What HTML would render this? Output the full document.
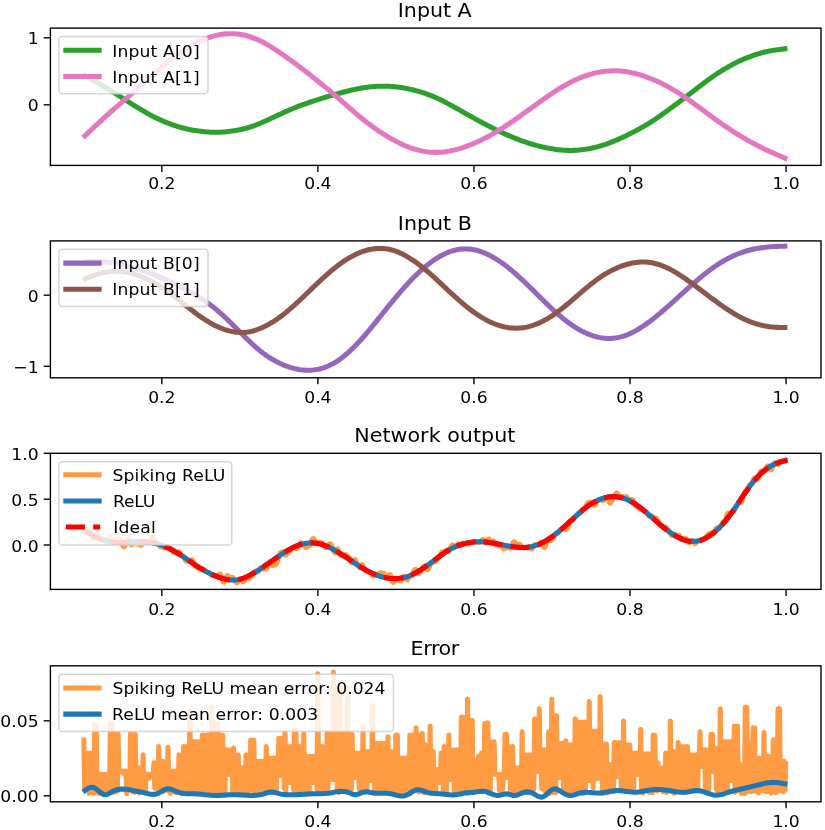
<!DOCTYPE html>
<html lang="en"><head><meta charset="utf-8"><title>Network output</title>
<style>html,body{margin:0;padding:0;background:#fff}svg{display:block}</style>
</head><body>
<svg width="825" height="830" viewBox="0 0 825 830" font-family='"DejaVu Sans", "Liberation Sans", sans-serif' fill="#000">
<rect width="825" height="830" fill="#fff"/>
<clipPath id="c0"><rect x="50.4" y="28.1" width="770.6" height="137.3"/></clipPath>
<clipPath id="c1"><rect x="50.4" y="240.9" width="770.6" height="136.9"/></clipPath>
<clipPath id="c2"><rect x="50.4" y="453.3" width="770.6" height="136.1"/></clipPath>
<clipPath id="c3"><rect x="50.4" y="665.8" width="770.6" height="136"/></clipPath>
<g clip-path="url(#c0)">
<path d="M83 74.37 L84.96 75.49 L86.92 76.62 L88.89 77.74 L90.85 78.87 L92.81 80 L94.77 81.13 L96.73 82.27 L98.7 83.42 L100.66 84.57 L102.62 85.73 L104.58 86.89 L106.55 88.07 L108.51 89.26 L110.47 90.45 L112.43 91.65 L114.39 92.86 L116.36 94.08 L118.32 95.31 L120.28 96.54 L122.24 97.79 L124.2 99.04 L126.17 100.29 L128.13 101.55 L130.09 102.8 L132.05 104.05 L134.02 105.3 L135.98 106.53 L137.94 107.75 L139.9 108.96 L141.86 110.14 L143.83 111.3 L145.79 112.44 L147.75 113.54 L149.71 114.62 L151.67 115.66 L153.64 116.68 L155.6 117.66 L157.56 118.61 L159.52 119.53 L161.48 120.41 L163.45 121.27 L165.41 122.09 L167.37 122.88 L169.33 123.63 L171.3 124.35 L173.26 125.04 L175.22 125.7 L177.18 126.32 L179.14 126.91 L181.11 127.47 L183.07 127.99 L185.03 128.49 L186.99 128.96 L188.95 129.39 L190.92 129.79 L192.88 130.17 L194.84 130.51 L196.8 130.83 L198.76 131.12 L200.73 131.37 L202.69 131.6 L204.65 131.8 L206.61 131.96 L208.58 132.1 L210.54 132.2 L212.5 132.27 L214.46 132.3 L216.42 132.3 L218.39 132.27 L220.35 132.2 L222.31 132.1 L224.27 131.96 L226.23 131.79 L228.2 131.59 L230.16 131.35 L232.12 131.08 L234.08 130.77 L236.05 130.44 L238.01 130.07 L239.97 129.67 L241.93 129.24 L243.89 128.77 L245.86 128.27 L247.82 127.72 L249.78 127.13 L251.74 126.49 L253.7 125.81 L255.67 125.08 L257.63 124.32 L259.59 123.53 L261.55 122.71 L263.51 121.86 L265.48 120.99 L267.44 120.11 L269.4 119.21 L271.36 118.3 L273.33 117.38 L275.29 116.45 L277.25 115.53 L279.21 114.61 L281.17 113.69 L283.14 112.79 L285.1 111.9 L287.06 111.02 L289.02 110.17 L290.98 109.33 L292.95 108.52 L294.91 107.73 L296.87 106.96 L298.83 106.2 L300.79 105.46 L302.76 104.74 L304.72 104.03 L306.68 103.34 L308.64 102.66 L310.61 101.99 L312.57 101.33 L314.53 100.68 L316.49 100.04 L318.45 99.41 L320.42 98.79 L322.38 98.17 L324.34 97.57 L326.3 96.97 L328.26 96.38 L330.23 95.8 L332.19 95.23 L334.15 94.67 L336.11 94.11 L338.08 93.56 L340.04 93.02 L342 92.49 L343.96 91.97 L345.92 91.46 L347.89 90.97 L349.85 90.5 L351.81 90.04 L353.77 89.6 L355.73 89.18 L357.7 88.79 L359.66 88.42 L361.62 88.07 L363.58 87.75 L365.54 87.46 L367.51 87.2 L369.47 86.97 L371.43 86.77 L373.39 86.59 L375.36 86.45 L377.32 86.34 L379.28 86.26 L381.24 86.21 L383.2 86.2 L385.17 86.21 L387.13 86.26 L389.09 86.35 L391.05 86.46 L393.01 86.61 L394.98 86.79 L396.94 87 L398.9 87.24 L400.86 87.52 L402.83 87.82 L404.79 88.16 L406.75 88.53 L408.71 88.92 L410.67 89.35 L412.64 89.81 L414.6 90.3 L416.56 90.82 L418.52 91.37 L420.48 91.95 L422.45 92.57 L424.41 93.22 L426.37 93.9 L428.33 94.61 L430.29 95.36 L432.26 96.13 L434.22 96.95 L436.18 97.8 L438.14 98.68 L440.11 99.6 L442.07 100.56 L444.03 101.55 L445.99 102.56 L447.95 103.61 L449.92 104.67 L451.88 105.75 L453.84 106.84 L455.8 107.93 L457.76 109.04 L459.73 110.14 L461.69 111.25 L463.65 112.37 L465.61 113.48 L467.57 114.59 L469.54 115.69 L471.5 116.8 L473.46 117.89 L475.42 118.99 L477.39 120.07 L479.35 121.14 L481.31 122.2 L483.27 123.25 L485.23 124.28 L487.2 125.31 L489.16 126.32 L491.12 127.32 L493.08 128.3 L495.04 129.27 L497.01 130.22 L498.97 131.16 L500.93 132.09 L502.89 132.99 L504.86 133.88 L506.82 134.75 L508.78 135.61 L510.74 136.44 L512.7 137.26 L514.67 138.06 L516.63 138.83 L518.59 139.59 L520.55 140.32 L522.51 141.04 L524.48 141.73 L526.44 142.39 L528.4 143.04 L530.36 143.66 L532.32 144.26 L534.29 144.83 L536.25 145.38 L538.21 145.9 L540.17 146.4 L542.14 146.87 L544.1 147.31 L546.06 147.73 L548.02 148.12 L549.98 148.49 L551.95 148.82 L553.91 149.13 L555.87 149.41 L557.83 149.65 L559.79 149.87 L561.76 150.05 L563.72 150.2 L565.68 150.31 L567.64 150.39 L569.61 150.43 L571.57 150.43 L573.53 150.39 L575.49 150.31 L577.45 150.19 L579.42 150.03 L581.38 149.83 L583.34 149.59 L585.3 149.32 L587.26 149 L589.23 148.65 L591.19 148.26 L593.15 147.83 L595.11 147.37 L597.07 146.87 L599.04 146.34 L601 145.77 L602.96 145.16 L604.92 144.53 L606.89 143.85 L608.85 143.15 L610.81 142.41 L612.77 141.65 L614.73 140.85 L616.7 140.02 L618.66 139.17 L620.62 138.29 L622.58 137.38 L624.54 136.45 L626.51 135.49 L628.47 134.52 L630.43 133.54 L632.39 132.55 L634.35 131.54 L636.32 130.51 L638.28 129.47 L640.24 128.4 L642.2 127.3 L644.17 126.17 L646.13 125 L648.09 123.81 L650.05 122.58 L652.01 121.33 L653.98 120.04 L655.94 118.74 L657.9 117.4 L659.86 116.05 L661.82 114.68 L663.79 113.28 L665.75 111.87 L667.71 110.45 L669.67 109.01 L671.64 107.56 L673.6 106.1 L675.56 104.63 L677.52 103.15 L679.48 101.66 L681.45 100.17 L683.41 98.67 L685.37 97.16 L687.33 95.66 L689.29 94.15 L691.26 92.65 L693.22 91.14 L695.18 89.64 L697.14 88.14 L699.1 86.64 L701.07 85.16 L703.03 83.69 L704.99 82.24 L706.95 80.8 L708.92 79.38 L710.88 77.98 L712.84 76.61 L714.8 75.26 L716.76 73.94 L718.73 72.65 L720.69 71.39 L722.65 70.17 L724.61 68.98 L726.57 67.82 L728.54 66.69 L730.5 65.6 L732.46 64.54 L734.42 63.52 L736.38 62.52 L738.35 61.57 L740.31 60.64 L742.27 59.76 L744.23 58.9 L746.2 58.09 L748.16 57.3 L750.12 56.56 L752.08 55.84 L754.04 55.16 L756.01 54.52 L757.97 53.91 L759.93 53.34 L761.89 52.8 L763.85 52.3 L765.82 51.83 L767.78 51.4 L769.74 51 L771.7 50.63 L773.67 50.29 L775.63 49.98 L777.59 49.69 L779.55 49.43 L781.51 49.19 L783.48 48.97 L785.44 48.75 L787.4 48.55" fill="none" stroke="#2ca02c" stroke-opacity="1" stroke-width="5.05" stroke-linejoin="round" stroke-linecap="butt"/>
<path d="M83 137.66 L84.96 135.79 L86.92 133.93 L88.89 132.07 L90.85 130.21 L92.81 128.36 L94.77 126.51 L96.73 124.67 L98.7 122.85 L100.66 121.03 L102.62 119.23 L104.58 117.44 L106.55 115.67 L108.51 113.91 L110.47 112.17 L112.43 110.43 L114.39 108.71 L116.36 107 L118.32 105.3 L120.28 103.6 L122.24 101.9 L124.2 100.21 L126.17 98.52 L128.13 96.82 L130.09 95.11 L132.05 93.4 L134.02 91.68 L135.98 89.94 L137.94 88.19 L139.9 86.43 L141.86 84.66 L143.83 82.88 L145.79 81.1 L147.75 79.33 L149.71 77.55 L151.67 75.79 L153.64 74.03 L155.6 72.28 L157.56 70.55 L159.52 68.84 L161.48 67.14 L163.45 65.47 L165.41 63.82 L167.37 62.21 L169.33 60.62 L171.3 59.07 L173.26 57.55 L175.22 56.07 L177.18 54.63 L179.14 53.23 L181.11 51.87 L183.07 50.55 L185.03 49.28 L186.99 48.04 L188.95 46.85 L190.92 45.71 L192.88 44.61 L194.84 43.56 L196.8 42.56 L198.76 41.61 L200.73 40.71 L202.69 39.85 L204.65 39.05 L206.61 38.3 L208.58 37.61 L210.54 36.97 L212.5 36.38 L214.46 35.85 L216.42 35.37 L218.39 34.95 L220.35 34.59 L222.31 34.29 L224.27 34.05 L226.23 33.87 L228.2 33.75 L230.16 33.69 L232.12 33.7 L234.08 33.77 L236.05 33.9 L238.01 34.1 L239.97 34.36 L241.93 34.68 L243.89 35.07 L245.86 35.52 L247.82 36.05 L249.78 36.64 L251.74 37.31 L253.7 38.04 L255.67 38.84 L257.63 39.7 L259.59 40.62 L261.55 41.59 L263.51 42.61 L265.48 43.67 L267.44 44.78 L269.4 45.92 L271.36 47.1 L273.33 48.32 L275.29 49.57 L277.25 50.85 L279.21 52.16 L281.17 53.49 L283.14 54.84 L285.1 56.22 L287.06 57.61 L289.02 59.02 L290.98 60.44 L292.95 61.88 L294.91 63.33 L296.87 64.79 L298.83 66.26 L300.79 67.75 L302.76 69.24 L304.72 70.75 L306.68 72.27 L308.64 73.8 L310.61 75.34 L312.57 76.88 L314.53 78.44 L316.49 80 L318.45 81.58 L320.42 83.16 L322.38 84.76 L324.34 86.37 L326.3 87.98 L328.26 89.61 L330.23 91.25 L332.19 92.91 L334.15 94.57 L336.11 96.26 L338.08 97.95 L340.04 99.66 L342 101.37 L343.96 103.09 L345.92 104.81 L347.89 106.53 L349.85 108.25 L351.81 109.96 L353.77 111.65 L355.73 113.33 L357.7 114.99 L359.66 116.62 L361.62 118.23 L363.58 119.82 L365.54 121.37 L367.51 122.89 L369.47 124.38 L371.43 125.84 L373.39 127.27 L375.36 128.67 L377.32 130.03 L379.28 131.37 L381.24 132.67 L383.2 133.94 L385.17 135.17 L387.13 136.37 L389.09 137.54 L391.05 138.67 L393.01 139.76 L394.98 140.81 L396.94 141.83 L398.9 142.81 L400.86 143.74 L402.83 144.63 L404.79 145.49 L406.75 146.29 L408.71 147.05 L410.67 147.77 L412.64 148.44 L414.6 149.06 L416.56 149.63 L418.52 150.15 L420.48 150.62 L422.45 151.04 L424.41 151.4 L426.37 151.71 L428.33 151.96 L430.29 152.15 L432.26 152.29 L434.22 152.37 L436.18 152.39 L438.14 152.35 L440.11 152.26 L442.07 152.11 L444.03 151.9 L445.99 151.64 L447.95 151.33 L449.92 150.98 L451.88 150.58 L453.84 150.14 L455.8 149.65 L457.76 149.13 L459.73 148.57 L461.69 147.97 L463.65 147.34 L465.61 146.66 L467.57 145.96 L469.54 145.21 L471.5 144.43 L473.46 143.62 L475.42 142.77 L477.39 141.89 L479.35 140.98 L481.31 140.04 L483.27 139.06 L485.23 138.05 L487.2 137.02 L489.16 135.95 L491.12 134.86 L493.08 133.74 L495.04 132.59 L497.01 131.42 L498.97 130.22 L500.93 129 L502.89 127.76 L504.86 126.49 L506.82 125.2 L508.78 123.89 L510.74 122.56 L512.7 121.22 L514.67 119.86 L516.63 118.49 L518.59 117.11 L520.55 115.72 L522.51 114.32 L524.48 112.91 L526.44 111.5 L528.4 110.09 L530.36 108.67 L532.32 107.26 L534.29 105.85 L536.25 104.44 L538.21 103.04 L540.17 101.64 L542.14 100.25 L544.1 98.88 L546.06 97.51 L548.02 96.16 L549.98 94.83 L551.95 93.51 L553.91 92.21 L555.87 90.93 L557.83 89.68 L559.79 88.45 L561.76 87.25 L563.72 86.09 L565.68 84.95 L567.64 83.85 L569.61 82.79 L571.57 81.77 L573.53 80.79 L575.49 79.86 L577.45 78.97 L579.42 78.13 L581.38 77.34 L583.34 76.6 L585.3 75.9 L587.26 75.24 L589.23 74.63 L591.19 74.07 L593.15 73.55 L595.11 73.08 L597.07 72.65 L599.04 72.26 L601 71.92 L602.96 71.62 L604.92 71.37 L606.89 71.16 L608.85 71 L610.81 70.89 L612.77 70.82 L614.73 70.81 L616.7 70.84 L618.66 70.93 L620.62 71.06 L622.58 71.24 L624.54 71.48 L626.51 71.75 L628.47 72.08 L630.43 72.45 L632.39 72.86 L634.35 73.31 L636.32 73.81 L638.28 74.35 L640.24 74.92 L642.2 75.53 L644.17 76.18 L646.13 76.86 L648.09 77.57 L650.05 78.32 L652.01 79.1 L653.98 79.92 L655.94 80.77 L657.9 81.65 L659.86 82.57 L661.82 83.53 L663.79 84.52 L665.75 85.54 L667.71 86.6 L669.67 87.7 L671.64 88.83 L673.6 90 L675.56 91.19 L677.52 92.42 L679.48 93.67 L681.45 94.95 L683.41 96.25 L685.37 97.58 L687.33 98.93 L689.29 100.3 L691.26 101.68 L693.22 103.09 L695.18 104.51 L697.14 105.94 L699.1 107.37 L701.07 108.82 L703.03 110.27 L704.99 111.72 L706.95 113.18 L708.92 114.62 L710.88 116.07 L712.84 117.5 L714.8 118.92 L716.76 120.34 L718.73 121.73 L720.69 123.11 L722.65 124.47 L724.61 125.82 L726.57 127.14 L728.54 128.45 L730.5 129.74 L732.46 131.02 L734.42 132.27 L736.38 133.51 L738.35 134.73 L740.31 135.93 L742.27 137.1 L744.23 138.26 L746.2 139.4 L748.16 140.52 L750.12 141.62 L752.08 142.7 L754.04 143.76 L756.01 144.8 L757.97 145.82 L759.93 146.82 L761.89 147.79 L763.85 148.75 L765.82 149.69 L767.78 150.61 L769.74 151.51 L771.7 152.4 L773.67 153.27 L775.63 154.13 L777.59 154.98 L779.55 155.82 L781.51 156.66 L783.48 157.49 L785.44 158.32 L787.4 159.14" fill="none" stroke="#e377c2" stroke-opacity="1" stroke-width="5.05" stroke-linejoin="round" stroke-linecap="butt"/>
</g>
<rect x="50.4" y="28.1" width="770.6" height="137.3" fill="none" stroke="#000" stroke-width="1.38"/>
<line x1="161.83" y1="165.4" x2="161.83" y2="171.9" stroke="#000" stroke-width="1.38"/>
<text transform="translate(161.83,189.4) scale(1.031,1)" font-size="16.67" text-anchor="middle">0.2</text>
<line x1="317.89" y1="165.4" x2="317.89" y2="171.9" stroke="#000" stroke-width="1.38"/>
<text transform="translate(317.89,189.4) scale(1.031,1)" font-size="16.67" text-anchor="middle">0.4</text>
<line x1="473.95" y1="165.4" x2="473.95" y2="171.9" stroke="#000" stroke-width="1.38"/>
<text transform="translate(473.95,189.4) scale(1.031,1)" font-size="16.67" text-anchor="middle">0.6</text>
<line x1="630.01" y1="165.4" x2="630.01" y2="171.9" stroke="#000" stroke-width="1.38"/>
<text transform="translate(630.01,189.4) scale(1.031,1)" font-size="16.67" text-anchor="middle">0.8</text>
<line x1="786.07" y1="165.4" x2="786.07" y2="171.9" stroke="#000" stroke-width="1.38"/>
<text transform="translate(786.07,189.4) scale(1.031,1)" font-size="16.67" text-anchor="middle">1.0</text>
<line x1="43.7" y1="37.8" x2="50.4" y2="37.8" stroke="#000" stroke-width="1.38"/>
<text transform="translate(38.6,44.3) scale(1.031,1)" font-size="16.67" text-anchor="end">1</text>
<line x1="43.7" y1="104.8" x2="50.4" y2="104.8" stroke="#000" stroke-width="1.38"/>
<text transform="translate(38.6,111.3) scale(1.031,1)" font-size="16.67" text-anchor="end">0</text>
<text transform="translate(397.8,17) scale(1.031,1)" font-size="20.0" letter-spacing="-0.016">Input A</text>
<rect x="58.95" y="36.43" width="149.05" height="57.27" rx="3.4" ry="3.4" fill="#fff" fill-opacity="0.82" stroke="#ccc" stroke-opacity="0.8" stroke-width="1.5"/>
<path d="M63.27 50.3 L101.65 50.3" stroke="#2ca02c" stroke-opacity="1" stroke-width="5.05" fill="none"/>
<text transform="translate(112.2,56.5) scale(1.031,1)" font-size="16.67" letter-spacing="0.151">Input A[0]</text>
<path d="M63.27 76.4 L101.65 76.4" stroke="#e377c2" stroke-opacity="1" stroke-width="5.05" fill="none"/>
<text transform="translate(112.2,82.6) scale(1.031,1)" font-size="16.67" letter-spacing="0.151">Input A[1]</text>
<g clip-path="url(#c1)">
<path d="M83 261.95 L84.96 261.87 L86.92 261.8 L88.89 261.74 L90.85 261.68 L92.81 261.64 L94.77 261.62 L96.73 261.63 L98.7 261.66 L100.66 261.73 L102.62 261.82 L104.58 261.95 L106.55 262.11 L108.51 262.31 L110.47 262.55 L112.43 262.82 L114.39 263.13 L116.36 263.47 L118.32 263.84 L120.28 264.25 L122.24 264.69 L124.2 265.15 L126.17 265.64 L128.13 266.16 L130.09 266.7 L132.05 267.26 L134.02 267.84 L135.98 268.44 L137.94 269.06 L139.9 269.7 L141.86 270.35 L143.83 271.03 L145.79 271.72 L147.75 272.43 L149.71 273.16 L151.67 273.9 L153.64 274.67 L155.6 275.45 L157.56 276.26 L159.52 277.08 L161.48 277.92 L163.45 278.78 L165.41 279.66 L167.37 280.55 L169.33 281.46 L171.3 282.39 L173.26 283.33 L175.22 284.28 L177.18 285.25 L179.14 286.23 L181.11 287.22 L183.07 288.22 L185.03 289.24 L186.99 290.27 L188.95 291.31 L190.92 292.38 L192.88 293.47 L194.84 294.59 L196.8 295.74 L198.76 296.92 L200.73 298.15 L202.69 299.41 L204.65 300.72 L206.61 302.08 L208.58 303.49 L210.54 304.95 L212.5 306.47 L214.46 308.04 L216.42 309.66 L218.39 311.33 L220.35 313.05 L222.31 314.82 L224.27 316.63 L226.23 318.47 L228.2 320.35 L230.16 322.25 L232.12 324.17 L234.08 326.11 L236.05 328.07 L238.01 330.03 L239.97 332 L241.93 333.96 L243.89 335.93 L245.86 337.87 L247.82 339.8 L249.78 341.68 L251.74 343.53 L253.7 345.33 L255.67 347.07 L257.63 348.76 L259.59 350.38 L261.55 351.94 L263.51 353.44 L265.48 354.87 L267.44 356.23 L269.4 357.53 L271.36 358.76 L273.33 359.92 L275.29 361.02 L277.25 362.06 L279.21 363.03 L281.17 363.94 L283.14 364.79 L285.1 365.58 L287.06 366.3 L289.02 366.98 L290.98 367.59 L292.95 368.14 L294.91 368.63 L296.87 369.06 L298.83 369.42 L300.79 369.72 L302.76 369.95 L304.72 370.11 L306.68 370.2 L308.64 370.22 L310.61 370.16 L312.57 370.03 L314.53 369.83 L316.49 369.54 L318.45 369.17 L320.42 368.71 L322.38 368.17 L324.34 367.53 L326.3 366.81 L328.26 365.99 L330.23 365.08 L332.19 364.08 L334.15 362.98 L336.11 361.8 L338.08 360.52 L340.04 359.15 L342 357.69 L343.96 356.15 L345.92 354.53 L347.89 352.83 L349.85 351.06 L351.81 349.21 L353.77 347.29 L355.73 345.3 L357.7 343.26 L359.66 341.15 L361.62 338.98 L363.58 336.76 L365.54 334.49 L367.51 332.17 L369.47 329.82 L371.43 327.43 L373.39 325.02 L375.36 322.59 L377.32 320.14 L379.28 317.69 L381.24 315.23 L383.2 312.77 L385.17 310.31 L387.13 307.87 L389.09 305.45 L391.05 303.04 L393.01 300.65 L394.98 298.29 L396.94 295.95 L398.9 293.65 L400.86 291.37 L402.83 289.13 L404.79 286.92 L406.75 284.75 L408.71 282.63 L410.67 280.55 L412.64 278.51 L414.6 276.53 L416.56 274.59 L418.52 272.72 L420.48 270.9 L422.45 269.14 L424.41 267.44 L426.37 265.82 L428.33 264.25 L430.29 262.75 L432.26 261.32 L434.22 259.94 L436.18 258.64 L438.14 257.41 L440.11 256.26 L442.07 255.18 L444.03 254.19 L445.99 253.27 L447.95 252.44 L449.92 251.69 L451.88 251.03 L453.84 250.46 L455.8 249.98 L457.76 249.59 L459.73 249.29 L461.69 249.08 L463.65 248.95 L465.61 248.92 L467.57 248.97 L469.54 249.11 L471.5 249.34 L473.46 249.65 L475.42 250.05 L477.39 250.53 L479.35 251.1 L481.31 251.75 L483.27 252.47 L485.23 253.28 L487.2 254.16 L489.16 255.12 L491.12 256.14 L493.08 257.24 L495.04 258.4 L497.01 259.62 L498.97 260.9 L500.93 262.24 L502.89 263.64 L504.86 265.09 L506.82 266.59 L508.78 268.13 L510.74 269.73 L512.7 271.36 L514.67 273.04 L516.63 274.76 L518.59 276.51 L520.55 278.3 L522.51 280.11 L524.48 281.96 L526.44 283.83 L528.4 285.73 L530.36 287.64 L532.32 289.57 L534.29 291.52 L536.25 293.46 L538.21 295.42 L540.17 297.36 L542.14 299.3 L544.1 301.23 L546.06 303.15 L548.02 305.04 L549.98 306.91 L551.95 308.74 L553.91 310.55 L555.87 312.32 L557.83 314.05 L559.79 315.74 L561.76 317.38 L563.72 318.98 L565.68 320.53 L567.64 322.03 L569.61 323.48 L571.57 324.87 L573.53 326.2 L575.49 327.46 L577.45 328.66 L579.42 329.8 L581.38 330.87 L583.34 331.88 L585.3 332.81 L587.26 333.68 L589.23 334.48 L591.19 335.2 L593.15 335.86 L595.11 336.44 L597.07 336.95 L599.04 337.39 L601 337.75 L602.96 338.04 L604.92 338.24 L606.89 338.37 L608.85 338.42 L610.81 338.38 L612.77 338.26 L614.73 338.06 L616.7 337.77 L618.66 337.39 L620.62 336.93 L622.58 336.38 L624.54 335.76 L626.51 335.05 L628.47 334.26 L630.43 333.39 L632.39 332.45 L634.35 331.44 L636.32 330.36 L638.28 329.21 L640.24 328.01 L642.2 326.75 L644.17 325.44 L646.13 324.07 L648.09 322.66 L650.05 321.21 L652.01 319.71 L653.98 318.18 L655.94 316.61 L657.9 315.01 L659.86 313.38 L661.82 311.72 L663.79 310.03 L665.75 308.33 L667.71 306.6 L669.67 304.86 L671.64 303.11 L673.6 301.34 L675.56 299.56 L677.52 297.79 L679.48 296 L681.45 294.22 L683.41 292.44 L685.37 290.67 L687.33 288.9 L689.29 287.15 L691.26 285.41 L693.22 283.68 L695.18 281.98 L697.14 280.3 L699.1 278.64 L701.07 277 L703.03 275.4 L704.99 273.83 L706.95 272.29 L708.92 270.79 L710.88 269.32 L712.84 267.9 L714.8 266.52 L716.76 265.19 L718.73 263.91 L720.69 262.67 L722.65 261.49 L724.61 260.35 L726.57 259.26 L728.54 258.22 L730.5 257.23 L732.46 256.29 L734.42 255.39 L736.38 254.55 L738.35 253.75 L740.31 253 L742.27 252.3 L744.23 251.64 L746.2 251.03 L748.16 250.47 L750.12 249.95 L752.08 249.47 L754.04 249.03 L756.01 248.63 L757.97 248.27 L759.93 247.95 L761.89 247.66 L763.85 247.4 L765.82 247.18 L767.78 246.98 L769.74 246.82 L771.7 246.67 L773.67 246.55 L775.63 246.45 L777.59 246.37 L779.55 246.29 L781.51 246.23 L783.48 246.17 L785.44 246.12 L787.4 246.07" fill="none" stroke="#9467bd" stroke-opacity="1" stroke-width="5.05" stroke-linejoin="round" stroke-linecap="butt"/>
<path d="M83 279.79 L84.96 278.99 L86.92 278.2 L88.89 277.42 L90.85 276.65 L92.81 275.91 L94.77 275.21 L96.73 274.54 L98.7 273.93 L100.66 273.36 L102.62 272.85 L104.58 272.41 L106.55 272.02 L108.51 271.71 L110.47 271.47 L112.43 271.3 L114.39 271.2 L116.36 271.18 L118.32 271.23 L120.28 271.35 L122.24 271.54 L124.2 271.8 L126.17 272.11 L128.13 272.49 L130.09 272.93 L132.05 273.43 L134.02 273.99 L135.98 274.6 L137.94 275.26 L139.9 275.98 L141.86 276.76 L143.83 277.58 L145.79 278.46 L147.75 279.39 L149.71 280.37 L151.67 281.4 L153.64 282.48 L155.6 283.62 L157.56 284.8 L159.52 286.03 L161.48 287.31 L163.45 288.64 L165.41 290 L167.37 291.4 L169.33 292.83 L171.3 294.3 L173.26 295.78 L175.22 297.29 L177.18 298.81 L179.14 300.35 L181.11 301.89 L183.07 303.44 L185.03 304.99 L186.99 306.53 L188.95 308.07 L190.92 309.59 L192.88 311.1 L194.84 312.58 L196.8 314.03 L198.76 315.45 L200.73 316.84 L202.69 318.18 L204.65 319.48 L206.61 320.73 L208.58 321.93 L210.54 323.08 L212.5 324.16 L214.46 325.19 L216.42 326.16 L218.39 327.07 L220.35 327.91 L222.31 328.69 L224.27 329.4 L226.23 330.04 L228.2 330.61 L230.16 331.11 L232.12 331.53 L234.08 331.88 L236.05 332.15 L238.01 332.34 L239.97 332.45 L241.93 332.47 L243.89 332.4 L245.86 332.24 L247.82 331.99 L249.78 331.66 L251.74 331.23 L253.7 330.72 L255.67 330.13 L257.63 329.46 L259.59 328.71 L261.55 327.89 L263.51 327 L265.48 326.04 L267.44 325.02 L269.4 323.93 L271.36 322.78 L273.33 321.57 L275.29 320.3 L277.25 318.97 L279.21 317.58 L281.17 316.15 L283.14 314.66 L285.1 313.11 L287.06 311.52 L289.02 309.88 L290.98 308.2 L292.95 306.47 L294.91 304.71 L296.87 302.92 L298.83 301.09 L300.79 299.25 L302.76 297.38 L304.72 295.5 L306.68 293.62 L308.64 291.72 L310.61 289.83 L312.57 287.93 L314.53 286.05 L316.49 284.18 L318.45 282.32 L320.42 280.48 L322.38 278.66 L324.34 276.87 L326.3 275.11 L328.26 273.39 L330.23 271.7 L332.19 270.05 L334.15 268.44 L336.11 266.88 L338.08 265.38 L340.04 263.92 L342 262.53 L343.96 261.19 L345.92 259.91 L347.89 258.68 L349.85 257.52 L351.81 256.42 L353.77 255.39 L355.73 254.42 L357.7 253.52 L359.66 252.68 L361.62 251.92 L363.58 251.22 L365.54 250.6 L367.51 250.05 L369.47 249.58 L371.43 249.18 L373.39 248.87 L375.36 248.63 L377.32 248.48 L379.28 248.41 L381.24 248.42 L383.2 248.53 L385.17 248.72 L387.13 248.99 L389.09 249.35 L391.05 249.8 L393.01 250.33 L394.98 250.95 L396.94 251.66 L398.9 252.45 L400.86 253.33 L402.83 254.29 L404.79 255.32 L406.75 256.41 L408.71 257.58 L410.67 258.8 L412.64 260.08 L414.6 261.42 L416.56 262.81 L418.52 264.25 L420.48 265.75 L422.45 267.29 L424.41 268.88 L426.37 270.52 L428.33 272.2 L430.29 273.91 L432.26 275.66 L434.22 277.43 L436.18 279.23 L438.14 281.04 L440.11 282.87 L442.07 284.7 L444.03 286.54 L445.99 288.38 L447.95 290.22 L449.92 292.05 L451.88 293.86 L453.84 295.65 L455.8 297.43 L457.76 299.17 L459.73 300.89 L461.69 302.58 L463.65 304.23 L465.61 305.85 L467.57 307.43 L469.54 308.96 L471.5 310.45 L473.46 311.9 L475.42 313.29 L477.39 314.63 L479.35 315.91 L481.31 317.14 L483.27 318.31 L485.23 319.41 L487.2 320.46 L489.16 321.44 L491.12 322.36 L493.08 323.22 L495.04 324.01 L497.01 324.74 L498.97 325.4 L500.93 325.99 L502.89 326.51 L504.86 326.96 L506.82 327.34 L508.78 327.65 L510.74 327.89 L512.7 328.05 L514.67 328.14 L516.63 328.16 L518.59 328.1 L520.55 327.97 L522.51 327.76 L524.48 327.48 L526.44 327.12 L528.4 326.68 L530.36 326.17 L532.32 325.58 L534.29 324.92 L536.25 324.19 L538.21 323.38 L540.17 322.51 L542.14 321.57 L544.1 320.56 L546.06 319.48 L548.02 318.34 L549.98 317.14 L551.95 315.87 L553.91 314.55 L555.87 313.17 L557.83 311.73 L559.79 310.26 L561.76 308.73 L563.72 307.17 L565.68 305.58 L567.64 303.96 L569.61 302.32 L571.57 300.65 L573.53 298.97 L575.49 297.28 L577.45 295.59 L579.42 293.89 L581.38 292.2 L583.34 290.52 L585.3 288.85 L587.26 287.2 L589.23 285.59 L591.19 284 L593.15 282.45 L595.11 280.94 L597.07 279.48 L599.04 278.08 L601 276.73 L602.96 275.44 L604.92 274.22 L606.89 273.05 L608.85 271.94 L610.81 270.89 L612.77 269.89 L614.73 268.95 L616.7 268.07 L618.66 267.24 L620.62 266.47 L622.58 265.74 L624.54 265.08 L626.51 264.47 L628.47 263.93 L630.43 263.45 L632.39 263.03 L634.35 262.68 L636.32 262.4 L638.28 262.19 L640.24 262.05 L642.2 261.99 L644.17 262 L646.13 262.09 L648.09 262.26 L650.05 262.5 L652.01 262.83 L653.98 263.22 L655.94 263.7 L657.9 264.25 L659.86 264.88 L661.82 265.58 L663.79 266.36 L665.75 267.2 L667.71 268.1 L669.67 269.07 L671.64 270.11 L673.6 271.19 L675.56 272.33 L677.52 273.52 L679.48 274.76 L681.45 276.03 L683.41 277.34 L685.37 278.69 L687.33 280.07 L689.29 281.47 L691.26 282.89 L693.22 284.34 L695.18 285.79 L697.14 287.26 L699.1 288.74 L701.07 290.23 L703.03 291.72 L704.99 293.21 L706.95 294.7 L708.92 296.19 L710.88 297.66 L712.84 299.13 L714.8 300.59 L716.76 302.03 L718.73 303.46 L720.69 304.86 L722.65 306.24 L724.61 307.6 L726.57 308.93 L728.54 310.22 L730.5 311.48 L732.46 312.71 L734.42 313.89 L736.38 315.04 L738.35 316.13 L740.31 317.18 L742.27 318.18 L744.23 319.13 L746.2 320.02 L748.16 320.87 L750.12 321.66 L752.08 322.4 L754.04 323.08 L756.01 323.72 L757.97 324.3 L759.93 324.83 L761.89 325.31 L763.85 325.73 L765.82 326.1 L767.78 326.42 L769.74 326.7 L771.7 326.92 L773.67 327.11 L775.63 327.25 L777.59 327.37 L779.55 327.45 L781.51 327.5 L783.48 327.54 L785.44 327.57 L787.4 327.6" fill="none" stroke="#8c564b" stroke-opacity="1" stroke-width="5.05" stroke-linejoin="round" stroke-linecap="butt"/>
</g>
<rect x="50.4" y="240.9" width="770.6" height="136.9" fill="none" stroke="#000" stroke-width="1.38"/>
<line x1="161.83" y1="377.8" x2="161.83" y2="384.3" stroke="#000" stroke-width="1.38"/>
<text transform="translate(161.83,403) scale(1.031,1)" font-size="16.67" text-anchor="middle">0.2</text>
<line x1="317.89" y1="377.8" x2="317.89" y2="384.3" stroke="#000" stroke-width="1.38"/>
<text transform="translate(317.89,403) scale(1.031,1)" font-size="16.67" text-anchor="middle">0.4</text>
<line x1="473.95" y1="377.8" x2="473.95" y2="384.3" stroke="#000" stroke-width="1.38"/>
<text transform="translate(473.95,403) scale(1.031,1)" font-size="16.67" text-anchor="middle">0.6</text>
<line x1="630.01" y1="377.8" x2="630.01" y2="384.3" stroke="#000" stroke-width="1.38"/>
<text transform="translate(630.01,403) scale(1.031,1)" font-size="16.67" text-anchor="middle">0.8</text>
<line x1="786.07" y1="377.8" x2="786.07" y2="384.3" stroke="#000" stroke-width="1.38"/>
<text transform="translate(786.07,403) scale(1.031,1)" font-size="16.67" text-anchor="middle">1.0</text>
<line x1="43.7" y1="295.2" x2="50.4" y2="295.2" stroke="#000" stroke-width="1.38"/>
<text transform="translate(38.6,302.3) scale(1.031,1)" font-size="16.67" text-anchor="end">0</text>
<line x1="43.7" y1="366.3" x2="50.4" y2="366.3" stroke="#000" stroke-width="1.38"/>
<text transform="translate(38.6,373.4) scale(1.031,1)" font-size="16.67" text-anchor="end">−1</text>
<text transform="translate(397.8,229.8) scale(1.031,1)" font-size="20.0">Input B</text>
<rect x="58.95" y="249.23" width="149.05" height="57.27" rx="3.4" ry="3.4" fill="#fff" fill-opacity="0.82" stroke="#ccc" stroke-opacity="0.8" stroke-width="1.5"/>
<path d="M63.27 263.1 L101.65 263.1" stroke="#9467bd" stroke-opacity="1" stroke-width="5.05" fill="none"/>
<text transform="translate(112.2,269.3) scale(1.031,1)" font-size="16.67" letter-spacing="0.151">Input B[0]</text>
<path d="M63.27 289.2 L101.65 289.2" stroke="#8c564b" stroke-opacity="1" stroke-width="5.05" fill="none"/>
<text transform="translate(112.2,295.4) scale(1.031,1)" font-size="16.67" letter-spacing="0.151">Input B[1]</text>
<g clip-path="url(#c2)">
<path d="M83 533.9 L83.78 532.55 L84.57 530.49 L85.35 529.14 L86.13 529.11 L86.92 529.9 L87.7 530.72 L88.48 531.26 L89.27 531.65 L90.05 532.33 L90.84 533.82 L91.62 536.03 L92.4 537.92 L93.19 538.4 L93.97 537.41 L94.75 535.89 L95.54 534.9 L96.32 534.79 L97.1 535.12 L97.89 535.59 L98.67 536.52 L99.45 538.02 L100.24 539.19 L101.02 539.24 L101.8 538.73 L102.59 538.64 L103.37 539.01 L104.16 539.43 L104.94 540.04 L105.72 541.16 L106.51 542.2 L107.29 542.02 L108.07 540.39 L108.86 538.25 L109.64 536.63 L110.42 536.19 L111.21 537.16 L111.99 538.97 L112.77 540.4 L113.56 540.79 L114.34 540.53 L115.13 540.09 L115.91 539.48 L116.69 538.87 L117.48 538.69 L118.26 538.87 L119.04 538.99 L119.83 539.08 L120.61 539.79 L121.39 541.62 L122.18 544.04 L122.96 546 L123.74 546.9 L124.53 546.61 L125.31 545.22 L126.09 543.13 L126.88 540.98 L127.66 539.4 L128.45 539.08 L129.23 540.36 L130.01 542.53 L130.8 544.3 L131.58 544.86 L132.36 544.36 L133.15 543.32 L133.93 542.34 L134.71 541.89 L135.5 542.21 L136.28 543.05 L137.06 543.66 L137.85 543.78 L138.63 543.96 L139.41 544.55 L140.2 545.13 L140.98 545.18 L141.77 544.57 L142.55 543.51 L143.33 542.36 L144.12 541.55 L144.9 541.24 L145.68 541.28 L146.47 541.53 L147.25 541.85 L148.03 542.23 L148.82 542.58 L149.6 542.25 L150.38 540.65 L151.17 538.38 L151.95 536.95 L152.73 537.16 L153.52 538.44 L154.3 539.82 L155.09 540.97 L155.87 541.96 L156.65 542.79 L157.44 543.45 L158.22 544.04 L159 544.88 L159.79 546.14 L160.57 547.08 L161.35 546.95 L162.14 546.37 L162.92 546.55 L163.7 547.43 L164.49 547.94 L165.27 547.58 L166.05 547.01 L166.84 547.05 L167.62 547.59 L168.41 547.97 L169.19 548.06 L169.97 548.28 L170.76 548.88 L171.54 549.74 L172.32 550.72 L173.11 551.74 L173.89 552.5 L174.67 552.8 L175.46 552.88 L176.24 552.9 L177.02 552.65 L177.81 552.06 L178.59 551.57 L179.38 551.91 L180.16 553.18 L180.94 554.61 L181.73 555.44 L182.51 555.64 L183.29 555.89 L184.08 556.96 L184.86 558.87 L185.64 560.6 L186.43 561.19 L187.21 560.84 L187.99 560.37 L188.78 560.29 L189.56 560.45 L190.34 560.37 L191.13 559.88 L191.91 559.7 L192.7 560.67 L193.48 562.64 L194.26 564.65 L195.05 565.97 L195.83 566.68 L196.61 567.24 L197.4 567.82 L198.18 568.37 L198.96 568.72 L199.75 568.77 L200.53 568.61 L201.31 568.49 L202.1 568.61 L202.88 569.09 L203.66 569.74 L204.45 570.23 L205.23 570.6 L206.02 571.19 L206.8 571.92 L207.58 572.38 L208.37 572.42 L209.15 572.48 L209.93 573.12 L210.72 574.35 L211.5 575.37 L212.28 575.51 L213.07 575.2 L213.85 575.24 L214.63 575.7 L215.42 576.19 L216.2 576.27 L216.98 575.81 L217.77 575.17 L218.55 574.59 L219.34 574.11 L220.12 574.11 L220.9 575.26 L221.69 577.59 L222.47 580.2 L223.25 581.99 L224.04 582.3 L224.82 581.09 L225.6 578.93 L226.39 576.76 L227.17 575.47 L227.95 575.59 L228.74 576.89 L229.52 578.36 L230.31 578.94 L231.09 578.41 L231.87 577.61 L232.66 577.55 L233.44 578.45 L234.22 579.74 L235.01 580.96 L235.79 582.09 L236.57 582.81 L237.36 582.44 L238.14 581.02 L238.92 579.59 L239.71 578.99 L240.49 579.23 L241.27 579.98 L242.06 580.95 L242.84 581.76 L243.63 581.89 L244.41 581.04 L245.19 579.52 L245.98 578.08 L246.76 577.36 L247.54 577.55 L248.33 578.14 L249.11 578.4 L249.89 578.02 L250.68 577.25 L251.46 576.49 L252.24 575.77 L253.03 574.8 L253.81 573.51 L254.59 572.19 L255.38 571.27 L256.16 571.08 L256.95 571.54 L257.73 571.91 L258.51 571.32 L259.3 569.68 L260.08 568.06 L260.86 567.55 L261.65 568.05 L262.43 568.7 L263.21 568.95 L264 568.85 L264.78 568.88 L265.56 569.22 L266.35 569.08 L267.13 567.69 L267.91 565.43 L268.7 563.27 L269.48 561.97 L270.27 562.01 L271.05 563.33 L271.83 564.88 L272.62 565.57 L273.4 565.44 L274.18 565.16 L274.97 564.92 L275.75 564.49 L276.53 563.56 L277.32 561.95 L278.1 559.61 L278.88 556.78 L279.67 554.24 L280.45 552.76 L281.23 552.2 L282.02 551.94 L282.8 551.9 L283.59 552.54 L284.37 553.89 L285.15 555.05 L285.94 555.13 L286.72 554.31 L287.5 553.37 L288.29 552.71 L289.07 552.26 L289.85 551.67 L290.64 550.61 L291.42 549.3 L292.2 548.19 L292.99 547.43 L293.77 547.11 L294.56 547.34 L295.34 547.99 L296.12 548.58 L296.91 548.61 L297.69 547.87 L298.47 546.5 L299.26 544.81 L300.04 543.39 L300.82 542.83 L301.61 543.1 L302.39 543.71 L303.17 544.32 L303.96 545.06 L304.74 546.21 L305.52 547.35 L306.31 547.5 L307.09 546.59 L307.88 545.78 L308.66 545.8 L309.44 545.87 L310.23 544.79 L311.01 542.55 L311.79 540.25 L312.58 538.79 L313.36 538.45 L314.14 539.19 L314.93 540.78 L315.71 542.62 L316.49 543.81 L317.28 543.65 L318.06 542.64 L318.84 542.08 L319.63 542.39 L320.41 542.75 L321.2 542.58 L321.98 542.54 L322.76 543.34 L323.55 544.79 L324.33 546.3 L325.11 547.32 L325.9 547.45 L326.68 546.77 L327.46 545.82 L328.25 544.95 L329.03 544.21 L329.81 543.81 L330.6 544.01 L331.38 544.88 L332.16 546.5 L332.95 548.84 L333.73 551.23 L334.52 552.64 L335.3 552.49 L336.08 550.97 L336.87 549.23 L337.65 548.88 L338.43 550.45 L339.22 552.87 L340 554.74 L340.78 555.52 L341.57 555.55 L342.35 555.67 L343.13 556.16 L343.92 556.21 L344.7 555.34 L345.48 554.51 L346.27 554.78 L347.05 555.84 L347.84 556.7 L348.62 557.04 L349.4 557.49 L350.19 558.93 L350.97 561.26 L351.75 563 L352.54 562.87 L353.32 561.28 L354.1 559.78 L354.89 559.52 L355.67 560.55 L356.45 562.12 L357.24 563.7 L358.02 565.3 L358.81 566.71 L359.59 567.38 L360.37 566.91 L361.16 565.63 L361.94 564.6 L362.72 564.89 L363.51 566.54 L364.29 568.66 L365.07 570.28 L365.86 570.9 L366.64 570.81 L367.42 570.78 L368.21 571.19 L368.99 571.9 L369.77 572.72 L370.56 573.64 L371.34 574.57 L372.13 575.32 L372.91 575.79 L373.69 575.84 L374.48 575.43 L375.26 574.9 L376.04 574.82 L376.83 575.24 L377.61 575.58 L378.39 575.1 L379.18 573.91 L379.96 572.92 L380.74 572.71 L381.53 572.95 L382.31 573.14 L383.09 573.24 L383.88 573.5 L384.66 574.19 L385.45 575.22 L386.23 576.06 L387.01 576.36 L387.8 576.16 L388.58 575.54 L389.36 574.73 L390.15 574.68 L390.93 576.23 L391.71 579.01 L392.5 581.54 L393.28 582.5 L394.06 581.65 L394.85 580.04 L395.63 579.1 L396.41 579.33 L397.2 579.98 L397.98 580.17 L398.77 580.08 L399.55 580.45 L400.33 581.11 L401.12 580.98 L401.9 579.58 L402.68 577.66 L403.47 576.38 L404.25 576.3 L405.03 577.3 L405.82 578.75 L406.6 579.79 L407.38 579.83 L408.17 578.9 L408.95 577.57 L409.74 576.48 L410.52 575.97 L411.3 575.7 L412.09 574.9 L412.87 573.22 L413.65 571.3 L414.44 569.93 L415.22 569.34 L416 569.67 L416.79 571.05 L417.57 572.78 L418.35 573.74 L419.14 573.59 L419.92 572.65 L420.7 571.19 L421.49 569.54 L422.27 568.18 L423.06 567.15 L423.84 566.29 L424.62 566.03 L425.41 566.94 L426.19 568.6 L426.97 569.79 L427.76 569.8 L428.54 568.85 L429.32 567.31 L430.11 565.39 L430.89 563.62 L431.67 562.57 L432.46 562.21 L433.24 562.16 L434.02 562.12 L434.81 561.8 L435.59 561.14 L436.38 560.36 L437.16 559.64 L437.94 558.9 L438.73 558.03 L439.51 556.84 L440.29 555.14 L441.08 553.26 L441.86 551.91 L442.64 551.64 L443.43 552.22 L444.21 552.56 L444.99 551.91 L445.78 550.79 L446.56 550.33 L447.34 550.89 L448.13 551.56 L448.91 551.2 L449.7 549.69 L450.48 547.79 L451.26 546.16 L452.05 545.13 L452.83 544.94 L453.61 545.62 L454.4 546.67 L455.18 547.18 L455.96 546.58 L456.75 545.21 L457.53 544.03 L458.31 543.83 L459.1 544.59 L459.88 545.59 L460.66 545.89 L461.45 545.09 L462.23 543.89 L463.02 543.37 L463.8 543.63 L464.58 543.8 L465.37 543.63 L466.15 543.62 L466.93 543.89 L467.72 544.03 L468.5 543.79 L469.28 543.31 L470.07 543.06 L470.85 543.1 L471.63 542.9 L472.42 542.3 L473.2 541.75 L473.99 541.64 L474.77 541.82 L475.55 541.93 L476.34 541.96 L477.12 542.19 L477.9 542.51 L478.69 542.56 L479.47 542.23 L480.25 541.64 L481.04 540.86 L481.82 540.06 L482.6 539.57 L483.39 539.76 L484.17 540.77 L484.95 542.18 L485.74 543.19 L486.52 543.09 L487.31 541.73 L488.09 539.91 L488.87 538.98 L489.66 539.5 L490.44 540.69 L491.22 541.51 L492.01 541.58 L492.79 541.13 L493.57 540.88 L494.36 541.81 L495.14 543.79 L495.92 545.39 L496.71 545.68 L497.49 545.4 L498.27 545.54 L499.06 545.84 L499.84 545.58 L500.63 544.9 L501.41 544.8 L502.19 545.91 L502.98 547.75 L503.76 548.99 L504.54 548.63 L505.33 547.08 L506.11 545.72 L506.89 545.46 L507.68 546.13 L508.46 547.14 L509.24 548 L510.03 548.29 L510.81 547.58 L511.59 545.8 L512.38 543.66 L513.16 542.12 L513.95 541.62 L514.73 542.13 L515.51 543.43 L516.3 544.89 L517.08 545.52 L517.86 545.02 L518.65 544.18 L519.43 544.09 L520.21 544.88 L521 545.75 L521.78 546.33 L522.56 546.99 L523.35 547.69 L524.13 548 L524.92 547.86 L525.7 547.67 L526.48 547.73 L527.27 547.89 L528.05 547.59 L528.83 546.88 L529.62 546.76 L530.4 547.73 L531.18 548.93 L531.97 549.07 L532.75 547.79 L533.53 546 L534.32 544.85 L535.1 544.55 L535.88 544.52 L536.67 544.54 L537.45 544.82 L538.24 545.1 L539.02 544.78 L539.8 543.78 L540.59 542.64 L541.37 542.1 L542.15 542.82 L542.94 544.81 L543.72 546.94 L544.5 547.63 L545.29 546.37 L546.07 544.06 L546.85 541.75 L547.64 540.09 L548.42 539.48 L549.2 539.95 L549.99 540.74 L550.77 540.82 L551.56 539.97 L552.34 538.95 L553.12 538.15 L553.91 537.16 L554.69 535.7 L555.47 534.15 L556.26 533.25 L557.04 533.23 L557.82 533.31 L558.61 532.67 L559.39 531.46 L560.17 530.41 L560.96 529.8 L561.74 529.3 L562.52 528.85 L563.31 528.79 L564.09 529.17 L564.88 529.52 L565.66 529.54 L566.44 529.35 L567.23 528.75 L568.01 527.3 L568.79 525.07 L569.58 522.87 L570.36 521.54 L571.14 521.11 L571.93 520.91 L572.71 520.18 L573.49 518.88 L574.28 517.64 L575.06 516.9 L575.84 516.4 L576.63 515.58 L577.41 514.35 L578.2 513.21 L578.98 512.74 L579.76 512.97 L580.55 513.06 L581.33 512.14 L582.11 510.43 L582.9 509.09 L583.68 508.79 L584.46 508.84 L585.25 508.03 L586.03 506.22 L586.81 504.39 L587.6 503.15 L588.38 502.44 L589.17 502.26 L589.95 502.5 L590.73 502.75 L591.52 503.02 L592.3 503.7 L593.08 504.59 L593.87 505.17 L594.65 505.29 L595.43 504.81 L596.22 503.58 L597 501.98 L597.78 500.62 L598.57 499.71 L599.35 499.16 L600.13 498.98 L600.92 499.27 L601.7 499.91 L602.49 500.53 L603.27 500.66 L604.05 500.13 L604.84 499.13 L605.62 497.99 L606.4 497.33 L607.19 497.71 L607.97 499.07 L608.75 500.93 L609.54 502.6 L610.32 503.15 L611.1 502.26 L611.89 500.69 L612.67 499.24 L613.45 498 L614.24 496.82 L615.02 495.48 L615.81 493.92 L616.59 492.84 L617.37 493.16 L618.16 494.71 L618.94 496.47 L619.72 497.64 L620.51 497.91 L621.29 497.31 L622.07 496.5 L622.86 496.42 L623.64 497.11 L624.42 497.46 L625.21 496.9 L625.99 496.47 L626.77 497.16 L627.56 498.36 L628.34 498.99 L629.13 499.1 L629.91 499.34 L630.69 499.6 L631.48 499.5 L632.26 499.43 L633.04 500.25 L633.83 502.09 L634.61 504.13 L635.39 505.6 L636.18 506.38 L636.96 506.75 L637.74 507.08 L638.53 507.66 L639.31 508.48 L640.09 509.11 L640.88 509.28 L641.66 509.27 L642.45 509.62 L643.23 510.41 L644.01 511.21 L644.8 511.62 L645.58 511.77 L646.36 512.28 L647.15 513.4 L647.93 514.72 L648.71 515.8 L649.5 516.44 L650.28 516.4 L651.06 515.94 L651.85 515.84 L652.63 516.37 L653.42 517.14 L654.2 517.76 L654.98 518.05 L655.77 518.05 L656.55 518.36 L657.33 519.62 L658.12 521.71 L658.9 523.8 L659.68 525.14 L660.47 525.69 L661.25 526 L662.03 526.69 L662.82 527.69 L663.6 528.17 L664.38 527.65 L665.17 527 L665.95 527.31 L666.74 528.27 L667.52 529.09 L668.3 529.85 L669.09 531.02 L669.87 532.7 L670.65 534.43 L671.44 535.4 L672.22 535.31 L673 534.59 L673.79 533.97 L674.57 534.04 L675.35 534.78 L676.14 535.58 L676.92 535.86 L677.7 535.52 L678.49 535.02 L679.27 535.27 L680.06 536.69 L680.84 538.61 L681.62 539.8 L682.41 539.78 L683.19 539.19 L683.97 538.68 L684.76 538.34 L685.54 538.36 L686.32 539.25 L687.11 540.85 L687.89 542.24 L688.67 542.88 L689.46 542.86 L690.24 542.39 L691.02 541.58 L691.81 540.74 L692.59 540.44 L693.38 541.15 L694.16 542.58 L694.94 543.6 L695.73 543.37 L696.51 542.24 L697.29 541.17 L698.08 540.7 L698.86 540.79 L699.64 541.05 L700.43 541.09 L701.21 540.8 L701.99 540.37 L702.78 539.89 L703.56 539.26 L704.35 538.5 L705.13 537.83 L705.91 537.06 L706.7 535.97 L707.48 534.85 L708.26 534.18 L709.05 533.82 L709.83 533.34 L710.61 532.79 L711.4 532.59 L712.18 532.91 L712.96 533.47 L713.75 533.49 L714.53 532.32 L715.31 530.25 L716.1 528.43 L716.88 527.81 L717.67 528.1 L718.45 528.39 L719.23 528.24 L720.02 527.54 L720.8 526.24 L721.58 524.66 L722.37 523.18 L723.15 521.97 L723.93 521.26 L724.72 520.92 L725.5 519.95 L726.28 517.56 L727.07 514.78 L727.85 513.43 L728.63 513.7 L729.42 514.25 L730.2 514.12 L730.99 513.38 L731.77 512.62 L732.55 512.16 L733.34 511.74 L734.12 510.98 L734.9 509.76 L735.69 508.15 L736.47 506.4 L737.25 504.89 L738.04 503.67 L738.82 502.71 L739.6 502.32 L740.39 502.51 L741.17 502.4 L741.95 501.12 L742.74 498.71 L743.52 495.91 L744.31 493.44 L745.09 491.76 L745.87 490.87 L746.66 490.32 L747.44 489.48 L748.22 487.95 L749.01 485.99 L749.79 484.59 L750.57 484.14 L751.36 483.79 L752.14 482.59 L752.92 480.63 L753.71 478.77 L754.49 477.83 L755.27 478.1 L756.06 479.01 L756.84 479.59 L757.63 479.31 L758.41 478.2 L759.19 476.15 L759.98 473.48 L760.76 471.42 L761.54 470.89 L762.33 471.29 L763.11 471.6 L763.89 471.61 L764.68 471.35 L765.46 470.3 L766.24 468.29 L767.03 466.42 L767.81 465.97 L768.6 467.05 L769.38 468.61 L770.16 469.65 L770.95 469.82 L771.73 469.13 L772.51 467.64 L773.3 465.66 L774.08 463.8 L774.86 462.73 L775.65 462.67 L776.43 463.39 L777.21 464.27 L778 464.45 L778.78 463.59 L779.56 462.42 L780.35 461.8 L781.13 461.62 L781.92 461.39 L782.7 461.14 L783.48 461.15 L784.27 461.22 L785.05 460.95 L785.83 460.51 L786.62 460.57 L787.4 460.96" fill="none" stroke="#ff7f0e" stroke-opacity="0.78" stroke-width="5.05" stroke-linejoin="round" stroke-linecap="butt"/>
<path d="M83 529.7 L83.78 530.18 L84.57 530.65 L85.35 531.12 L86.13 531.59 L86.92 532.06 L87.7 532.52 L88.48 532.98 L89.27 533.44 L90.05 533.89 L90.84 534.33 L91.62 534.77 L92.4 535.2 L93.19 535.62 L93.97 536.03 L94.75 536.43 L95.54 536.82 L96.32 537.2 L97.1 537.57 L97.89 537.92 L98.67 538.26 L99.45 538.58 L100.24 538.89 L101.02 539.19 L101.8 539.47 L102.59 539.74 L103.37 539.99 L104.16 540.23 L104.94 540.46 L105.72 540.67 L106.51 540.87 L107.29 541.06 L108.07 541.24 L108.86 541.41 L109.64 541.56 L110.42 541.7 L111.21 541.83 L111.99 541.95 L112.77 542.06 L113.56 542.16 L114.34 542.25 L115.13 542.32 L115.91 542.39 L116.69 542.45 L117.48 542.5 L118.26 542.53 L119.04 542.56 L119.83 542.58 L120.61 542.6 L121.39 542.6 L122.18 542.6 L122.96 542.59 L123.74 542.58 L124.53 542.56 L125.31 542.53 L126.09 542.5 L126.88 542.47 L127.66 542.43 L128.45 542.39 L129.23 542.35 L130.01 542.3 L130.8 542.26 L131.58 542.21 L132.36 542.16 L133.15 542.11 L133.93 542.06 L134.71 542.01 L135.5 541.96 L136.28 541.92 L137.06 541.88 L137.85 541.84 L138.63 541.8 L139.41 541.77 L140.2 541.75 L140.98 541.73 L141.77 541.72 L142.55 541.72 L143.33 541.73 L144.12 541.75 L144.9 541.78 L145.68 541.82 L146.47 541.87 L147.25 541.94 L148.03 542.01 L148.82 542.11 L149.6 542.21 L150.38 542.33 L151.17 542.46 L151.95 542.6 L152.73 542.75 L153.52 542.92 L154.3 543.1 L155.09 543.29 L155.87 543.49 L156.65 543.7 L157.44 543.92 L158.22 544.16 L159 544.4 L159.79 544.66 L160.57 544.92 L161.35 545.19 L162.14 545.48 L162.92 545.77 L163.7 546.08 L164.49 546.39 L165.27 546.72 L166.05 547.05 L166.84 547.4 L167.62 547.76 L168.41 548.12 L169.19 548.5 L169.97 548.88 L170.76 549.28 L171.54 549.69 L172.32 550.1 L173.11 550.53 L173.89 550.96 L174.67 551.41 L175.46 551.86 L176.24 552.32 L177.02 552.79 L177.81 553.27 L178.59 553.75 L179.38 554.24 L180.16 554.74 L180.94 555.24 L181.73 555.75 L182.51 556.26 L183.29 556.78 L184.08 557.31 L184.86 557.83 L185.64 558.37 L186.43 558.9 L187.21 559.44 L187.99 559.97 L188.78 560.51 L189.56 561.05 L190.34 561.59 L191.13 562.13 L191.91 562.67 L192.7 563.2 L193.48 563.73 L194.26 564.26 L195.05 564.78 L195.83 565.3 L196.61 565.82 L197.4 566.32 L198.18 566.83 L198.96 567.32 L199.75 567.81 L200.53 568.3 L201.31 568.77 L202.1 569.24 L202.88 569.71 L203.66 570.16 L204.45 570.61 L205.23 571.05 L206.02 571.48 L206.8 571.9 L207.58 572.31 L208.37 572.72 L209.15 573.11 L209.93 573.5 L210.72 573.87 L211.5 574.24 L212.28 574.6 L213.07 574.95 L213.85 575.29 L214.63 575.62 L215.42 575.94 L216.2 576.25 L216.98 576.55 L217.77 576.85 L218.55 577.13 L219.34 577.4 L220.12 577.67 L220.9 577.93 L221.69 578.17 L222.47 578.41 L223.25 578.63 L224.04 578.84 L224.82 579.04 L225.6 579.22 L226.39 579.39 L227.17 579.54 L227.95 579.67 L228.74 579.79 L229.52 579.89 L230.31 579.98 L231.09 580.04 L231.87 580.08 L232.66 580.1 L233.44 580.1 L234.22 580.08 L235.01 580.04 L235.79 579.98 L236.57 579.89 L237.36 579.78 L238.14 579.65 L238.92 579.49 L239.71 579.31 L240.49 579.1 L241.27 578.88 L242.06 578.62 L242.84 578.35 L243.63 578.06 L244.41 577.75 L245.19 577.42 L245.98 577.07 L246.76 576.7 L247.54 576.33 L248.33 575.94 L249.11 575.53 L249.89 575.12 L250.68 574.69 L251.46 574.26 L252.24 573.82 L253.03 573.37 L253.81 572.91 L254.59 572.45 L255.38 571.98 L256.16 571.51 L256.95 571.03 L257.73 570.54 L258.51 570.05 L259.3 569.56 L260.08 569.05 L260.86 568.55 L261.65 568.04 L262.43 567.52 L263.21 567 L264 566.47 L264.78 565.94 L265.56 565.41 L266.35 564.87 L267.13 564.33 L267.91 563.79 L268.7 563.24 L269.48 562.69 L270.27 562.15 L271.05 561.6 L271.83 561.04 L272.62 560.49 L273.4 559.94 L274.18 559.39 L274.97 558.84 L275.75 558.29 L276.53 557.74 L277.32 557.2 L278.1 556.66 L278.88 556.12 L279.67 555.58 L280.45 555.05 L281.23 554.52 L282.02 554 L282.8 553.49 L283.59 552.98 L284.37 552.48 L285.15 551.98 L285.94 551.5 L286.72 551.02 L287.5 550.55 L288.29 550.1 L289.07 549.65 L289.85 549.22 L290.64 548.79 L291.42 548.38 L292.2 547.98 L292.99 547.6 L293.77 547.22 L294.56 546.86 L295.34 546.51 L296.12 546.18 L296.91 545.86 L297.69 545.56 L298.47 545.27 L299.26 544.99 L300.04 544.74 L300.82 544.49 L301.61 544.27 L302.39 544.06 L303.17 543.86 L303.96 543.69 L304.74 543.53 L305.52 543.38 L306.31 543.26 L307.09 543.15 L307.88 543.06 L308.66 542.99 L309.44 542.93 L310.23 542.89 L311.01 542.88 L311.79 542.87 L312.58 542.89 L313.36 542.93 L314.14 542.98 L314.93 543.05 L315.71 543.15 L316.49 543.25 L317.28 543.38 L318.06 543.53 L318.84 543.69 L319.63 543.87 L320.41 544.06 L321.2 544.28 L321.98 544.51 L322.76 544.75 L323.55 545.02 L324.33 545.3 L325.11 545.59 L325.9 545.9 L326.68 546.23 L327.46 546.57 L328.25 546.93 L329.03 547.3 L329.81 547.68 L330.6 548.07 L331.38 548.47 L332.16 548.88 L332.95 549.31 L333.73 549.74 L334.52 550.18 L335.3 550.63 L336.08 551.08 L336.87 551.54 L337.65 552 L338.43 552.47 L339.22 552.95 L340 553.43 L340.78 553.91 L341.57 554.4 L342.35 554.9 L343.13 555.39 L343.92 555.9 L344.7 556.4 L345.48 556.91 L346.27 557.42 L347.05 557.94 L347.84 558.46 L348.62 558.99 L349.4 559.51 L350.19 560.04 L350.97 560.58 L351.75 561.11 L352.54 561.64 L353.32 562.18 L354.1 562.71 L354.89 563.24 L355.67 563.77 L356.45 564.29 L357.24 564.81 L358.02 565.33 L358.81 565.84 L359.59 566.34 L360.37 566.84 L361.16 567.32 L361.94 567.8 L362.72 568.27 L363.51 568.73 L364.29 569.18 L365.07 569.62 L365.86 570.05 L366.64 570.47 L367.42 570.89 L368.21 571.29 L368.99 571.69 L369.77 572.07 L370.56 572.45 L371.34 572.82 L372.13 573.18 L372.91 573.53 L373.69 573.87 L374.48 574.2 L375.26 574.52 L376.04 574.83 L376.83 575.13 L377.61 575.42 L378.39 575.7 L379.18 575.97 L379.96 576.23 L380.74 576.47 L381.53 576.71 L382.31 576.93 L383.09 577.14 L383.88 577.33 L384.66 577.51 L385.45 577.68 L386.23 577.83 L387.01 577.97 L387.8 578.1 L388.58 578.21 L389.36 578.31 L390.15 578.39 L390.93 578.46 L391.71 578.52 L392.5 578.56 L393.28 578.59 L394.06 578.6 L394.85 578.61 L395.63 578.59 L396.41 578.57 L397.2 578.53 L397.98 578.47 L398.77 578.4 L399.55 578.32 L400.33 578.22 L401.12 578.1 L401.9 577.97 L402.68 577.82 L403.47 577.66 L404.25 577.48 L405.03 577.28 L405.82 577.07 L406.6 576.83 L407.38 576.58 L408.17 576.31 L408.95 576.03 L409.74 575.72 L410.52 575.4 L411.3 575.05 L412.09 574.69 L412.87 574.31 L413.65 573.92 L414.44 573.51 L415.22 573.09 L416 572.66 L416.79 572.21 L417.57 571.75 L418.35 571.29 L419.14 570.81 L419.92 570.32 L420.7 569.83 L421.49 569.33 L422.27 568.82 L423.06 568.31 L423.84 567.79 L424.62 567.27 L425.41 566.74 L426.19 566.2 L426.97 565.66 L427.76 565.11 L428.54 564.55 L429.32 563.99 L430.11 563.42 L430.89 562.84 L431.67 562.26 L432.46 561.67 L433.24 561.08 L434.02 560.48 L434.81 559.88 L435.59 559.28 L436.38 558.69 L437.16 558.09 L437.94 557.5 L438.73 556.91 L439.51 556.32 L440.29 555.74 L441.08 555.17 L441.86 554.61 L442.64 554.05 L443.43 553.51 L444.21 552.97 L444.99 552.45 L445.78 551.94 L446.56 551.44 L447.34 550.95 L448.13 550.47 L448.91 550.01 L449.7 549.55 L450.48 549.11 L451.26 548.69 L452.05 548.28 L452.83 547.88 L453.61 547.5 L454.4 547.13 L455.18 546.78 L455.96 546.44 L456.75 546.11 L457.53 545.8 L458.31 545.51 L459.1 545.23 L459.88 544.96 L460.66 544.7 L461.45 544.45 L462.23 544.22 L463.02 544 L463.8 543.79 L464.58 543.59 L465.37 543.4 L466.15 543.22 L466.93 543.05 L467.72 542.89 L468.5 542.74 L469.28 542.6 L470.07 542.47 L470.85 542.35 L471.63 542.24 L472.42 542.14 L473.2 542.05 L473.99 541.97 L474.77 541.9 L475.55 541.84 L476.34 541.8 L477.12 541.76 L477.9 541.73 L478.69 541.72 L479.47 541.72 L480.25 541.72 L481.04 541.74 L481.82 541.77 L482.6 541.8 L483.39 541.85 L484.17 541.9 L484.95 541.97 L485.74 542.04 L486.52 542.12 L487.31 542.21 L488.09 542.3 L488.87 542.41 L489.66 542.52 L490.44 542.63 L491.22 542.76 L492.01 542.88 L492.79 543.02 L493.57 543.16 L494.36 543.3 L495.14 543.45 L495.92 543.6 L496.71 543.75 L497.49 543.91 L498.27 544.06 L499.06 544.22 L499.84 544.38 L500.63 544.54 L501.41 544.7 L502.19 544.86 L502.98 545.02 L503.76 545.18 L504.54 545.34 L505.33 545.49 L506.11 545.64 L506.89 545.79 L507.68 545.93 L508.46 546.07 L509.24 546.21 L510.03 546.34 L510.81 546.47 L511.59 546.59 L512.38 546.7 L513.16 546.81 L513.95 546.92 L514.73 547.01 L515.51 547.1 L516.3 547.18 L517.08 547.25 L517.86 547.32 L518.65 547.37 L519.43 547.42 L520.21 547.45 L521 547.48 L521.78 547.49 L522.56 547.5 L523.35 547.49 L524.13 547.47 L524.92 547.43 L525.7 547.39 L526.48 547.33 L527.27 547.25 L528.05 547.16 L528.83 547.06 L529.62 546.94 L530.4 546.81 L531.18 546.67 L531.97 546.5 L532.75 546.33 L533.53 546.13 L534.32 545.92 L535.1 545.7 L535.88 545.45 L536.67 545.19 L537.45 544.91 L538.24 544.62 L539.02 544.3 L539.8 543.97 L540.59 543.62 L541.37 543.25 L542.15 542.86 L542.94 542.46 L543.72 542.04 L544.5 541.61 L545.29 541.16 L546.07 540.69 L546.85 540.22 L547.64 539.72 L548.42 539.22 L549.2 538.7 L549.99 538.16 L550.77 537.62 L551.56 537.06 L552.34 536.5 L553.12 535.92 L553.91 535.33 L554.69 534.73 L555.47 534.12 L556.26 533.5 L557.04 532.87 L557.82 532.24 L558.61 531.59 L559.39 530.94 L560.17 530.28 L560.96 529.62 L561.74 528.94 L562.52 528.26 L563.31 527.58 L564.09 526.89 L564.88 526.19 L565.66 525.49 L566.44 524.79 L567.23 524.08 L568.01 523.37 L568.79 522.66 L569.58 521.94 L570.36 521.22 L571.14 520.5 L571.93 519.78 L572.71 519.06 L573.49 518.34 L574.28 517.62 L575.06 516.9 L575.84 516.18 L576.63 515.46 L577.41 514.74 L578.2 514.03 L578.98 513.33 L579.76 512.63 L580.55 511.94 L581.33 511.25 L582.11 510.58 L582.9 509.92 L583.68 509.26 L584.46 508.63 L585.25 508 L586.03 507.39 L586.81 506.8 L587.6 506.22 L588.38 505.66 L589.17 505.12 L589.95 504.6 L590.73 504.1 L591.52 503.61 L592.3 503.14 L593.08 502.69 L593.87 502.25 L594.65 501.83 L595.43 501.43 L596.22 501.04 L597 500.67 L597.78 500.31 L598.57 499.97 L599.35 499.64 L600.13 499.33 L600.92 499.03 L601.7 498.75 L602.49 498.48 L603.27 498.23 L604.05 498 L604.84 497.78 L605.62 497.58 L606.4 497.4 L607.19 497.24 L607.97 497.09 L608.75 496.96 L609.54 496.85 L610.32 496.77 L611.1 496.7 L611.89 496.65 L612.67 496.62 L613.45 496.61 L614.24 496.63 L615.02 496.66 L615.81 496.71 L616.59 496.79 L617.37 496.88 L618.16 496.99 L618.94 497.13 L619.72 497.28 L620.51 497.45 L621.29 497.64 L622.07 497.86 L622.86 498.09 L623.64 498.34 L624.42 498.6 L625.21 498.89 L625.99 499.2 L626.77 499.52 L627.56 499.86 L628.34 500.22 L629.13 500.59 L629.91 500.98 L630.69 501.39 L631.48 501.82 L632.26 502.26 L633.04 502.72 L633.83 503.19 L634.61 503.68 L635.39 504.18 L636.18 504.7 L636.96 505.24 L637.74 505.78 L638.53 506.34 L639.31 506.91 L640.09 507.49 L640.88 508.09 L641.66 508.7 L642.45 509.31 L643.23 509.94 L644.01 510.58 L644.8 511.22 L645.58 511.88 L646.36 512.54 L647.15 513.21 L647.93 513.89 L648.71 514.57 L649.5 515.26 L650.28 515.95 L651.06 516.64 L651.85 517.34 L652.63 518.03 L653.42 518.73 L654.2 519.42 L654.98 520.12 L655.77 520.81 L656.55 521.5 L657.33 522.18 L658.12 522.86 L658.9 523.53 L659.68 524.2 L660.47 524.86 L661.25 525.52 L662.03 526.17 L662.82 526.81 L663.6 527.45 L664.38 528.08 L665.17 528.69 L665.95 529.3 L666.74 529.91 L667.52 530.5 L668.3 531.08 L669.09 531.65 L669.87 532.21 L670.65 532.75 L671.44 533.29 L672.22 533.81 L673 534.32 L673.79 534.82 L674.57 535.3 L675.35 535.77 L676.14 536.23 L676.92 536.66 L677.7 537.08 L678.49 537.49 L679.27 537.88 L680.06 538.25 L680.84 538.6 L681.62 538.93 L682.41 539.25 L683.19 539.55 L683.97 539.82 L684.76 540.08 L685.54 540.31 L686.32 540.52 L687.11 540.71 L687.89 540.88 L688.67 541.03 L689.46 541.15 L690.24 541.25 L691.02 541.32 L691.81 541.37 L692.59 541.39 L693.38 541.39 L694.16 541.36 L694.94 541.31 L695.73 541.23 L696.51 541.13 L697.29 541 L698.08 540.85 L698.86 540.67 L699.64 540.47 L700.43 540.24 L701.21 539.99 L701.99 539.71 L702.78 539.41 L703.56 539.09 L704.35 538.74 L705.13 538.37 L705.91 537.98 L706.7 537.56 L707.48 537.13 L708.26 536.66 L709.05 536.18 L709.83 535.67 L710.61 535.14 L711.4 534.59 L712.18 534.01 L712.96 533.42 L713.75 532.79 L714.53 532.15 L715.31 531.49 L716.1 530.8 L716.88 530.09 L717.67 529.36 L718.45 528.6 L719.23 527.83 L720.02 527.03 L720.8 526.21 L721.58 525.37 L722.37 524.51 L723.15 523.63 L723.93 522.72 L724.72 521.8 L725.5 520.85 L726.28 519.89 L727.07 518.9 L727.85 517.89 L728.63 516.87 L729.42 515.82 L730.2 514.75 L730.99 513.67 L731.77 512.57 L732.55 511.45 L733.34 510.33 L734.12 509.19 L734.9 508.04 L735.69 506.88 L736.47 505.72 L737.25 504.55 L738.04 503.37 L738.82 502.2 L739.6 501.02 L740.39 499.85 L741.17 498.68 L741.95 497.51 L742.74 496.35 L743.52 495.19 L744.31 494.05 L745.09 492.91 L745.87 491.78 L746.66 490.67 L747.44 489.56 L748.22 488.47 L749.01 487.4 L749.79 486.34 L750.57 485.3 L751.36 484.27 L752.14 483.27 L752.92 482.28 L753.71 481.32 L754.49 480.38 L755.27 479.46 L756.06 478.57 L756.84 477.7 L757.63 476.85 L758.41 476.02 L759.19 475.22 L759.98 474.44 L760.76 473.68 L761.54 472.95 L762.33 472.24 L763.11 471.55 L763.89 470.89 L764.68 470.25 L765.46 469.64 L766.24 469.05 L767.03 468.48 L767.81 467.94 L768.6 467.42 L769.38 466.92 L770.16 466.44 L770.95 465.99 L771.73 465.55 L772.51 465.14 L773.3 464.75 L774.08 464.37 L774.86 464.01 L775.65 463.67 L776.43 463.35 L777.21 463.05 L778 462.76 L778.78 462.49 L779.56 462.23 L780.35 461.98 L781.13 461.75 L781.92 461.52 L782.7 461.3 L783.48 461.09 L784.27 460.88 L785.05 460.68 L785.83 460.47 L786.62 460.27 L787.4 460.07" fill="none" stroke="#1f77b4" stroke-opacity="1" stroke-width="5.05" stroke-linejoin="round" stroke-linecap="butt"/>
<path d="M83 529.7 L83.78 530.18 L84.57 530.65 L85.35 531.12 L86.13 531.59 L86.92 532.06 L87.7 532.52 L88.48 532.98 L89.27 533.44 L90.05 533.89 L90.84 534.33 L91.62 534.77 L92.4 535.2 L93.19 535.62 L93.97 536.03 L94.75 536.43 L95.54 536.82 L96.32 537.2 L97.1 537.57 L97.89 537.92 L98.67 538.26 L99.45 538.58 L100.24 538.89 L101.02 539.19 L101.8 539.47 L102.59 539.74 L103.37 539.99 L104.16 540.23 L104.94 540.46 L105.72 540.67 L106.51 540.87 L107.29 541.06 L108.07 541.24 L108.86 541.41 L109.64 541.56 L110.42 541.7 L111.21 541.83 L111.99 541.95 L112.77 542.06 L113.56 542.16 L114.34 542.25 L115.13 542.32 L115.91 542.39 L116.69 542.45 L117.48 542.5 L118.26 542.53 L119.04 542.56 L119.83 542.58 L120.61 542.6 L121.39 542.6 L122.18 542.6 L122.96 542.59 L123.74 542.58 L124.53 542.56 L125.31 542.53 L126.09 542.5 L126.88 542.47 L127.66 542.43 L128.45 542.39 L129.23 542.35 L130.01 542.3 L130.8 542.26 L131.58 542.21 L132.36 542.16 L133.15 542.11 L133.93 542.06 L134.71 542.01 L135.5 541.96 L136.28 541.92 L137.06 541.88 L137.85 541.84 L138.63 541.8 L139.41 541.77 L140.2 541.75 L140.98 541.73 L141.77 541.72 L142.55 541.72 L143.33 541.73 L144.12 541.75 L144.9 541.78 L145.68 541.82 L146.47 541.87 L147.25 541.94 L148.03 542.01 L148.82 542.11 L149.6 542.21 L150.38 542.33 L151.17 542.46 L151.95 542.6 L152.73 542.75 L153.52 542.92 L154.3 543.1 L155.09 543.29 L155.87 543.49 L156.65 543.7 L157.44 543.92 L158.22 544.16 L159 544.4 L159.79 544.66 L160.57 544.92 L161.35 545.19 L162.14 545.48 L162.92 545.77 L163.7 546.08 L164.49 546.39 L165.27 546.72 L166.05 547.05 L166.84 547.4 L167.62 547.76 L168.41 548.12 L169.19 548.5 L169.97 548.88 L170.76 549.28 L171.54 549.69 L172.32 550.1 L173.11 550.53 L173.89 550.96 L174.67 551.41 L175.46 551.86 L176.24 552.32 L177.02 552.79 L177.81 553.27 L178.59 553.75 L179.38 554.24 L180.16 554.74 L180.94 555.24 L181.73 555.75 L182.51 556.26 L183.29 556.78 L184.08 557.31 L184.86 557.83 L185.64 558.37 L186.43 558.9 L187.21 559.44 L187.99 559.97 L188.78 560.51 L189.56 561.05 L190.34 561.59 L191.13 562.13 L191.91 562.67 L192.7 563.2 L193.48 563.73 L194.26 564.26 L195.05 564.78 L195.83 565.3 L196.61 565.82 L197.4 566.32 L198.18 566.83 L198.96 567.32 L199.75 567.81 L200.53 568.3 L201.31 568.77 L202.1 569.24 L202.88 569.71 L203.66 570.16 L204.45 570.61 L205.23 571.05 L206.02 571.48 L206.8 571.9 L207.58 572.31 L208.37 572.72 L209.15 573.11 L209.93 573.5 L210.72 573.87 L211.5 574.24 L212.28 574.6 L213.07 574.95 L213.85 575.29 L214.63 575.62 L215.42 575.94 L216.2 576.25 L216.98 576.55 L217.77 576.85 L218.55 577.13 L219.34 577.4 L220.12 577.67 L220.9 577.93 L221.69 578.17 L222.47 578.41 L223.25 578.63 L224.04 578.84 L224.82 579.04 L225.6 579.22 L226.39 579.39 L227.17 579.54 L227.95 579.67 L228.74 579.79 L229.52 579.89 L230.31 579.98 L231.09 580.04 L231.87 580.08 L232.66 580.1 L233.44 580.1 L234.22 580.08 L235.01 580.04 L235.79 579.98 L236.57 579.89 L237.36 579.78 L238.14 579.65 L238.92 579.49 L239.71 579.31 L240.49 579.1 L241.27 578.88 L242.06 578.62 L242.84 578.35 L243.63 578.06 L244.41 577.75 L245.19 577.42 L245.98 577.07 L246.76 576.7 L247.54 576.33 L248.33 575.94 L249.11 575.53 L249.89 575.12 L250.68 574.69 L251.46 574.26 L252.24 573.82 L253.03 573.37 L253.81 572.91 L254.59 572.45 L255.38 571.98 L256.16 571.51 L256.95 571.03 L257.73 570.54 L258.51 570.05 L259.3 569.56 L260.08 569.05 L260.86 568.55 L261.65 568.04 L262.43 567.52 L263.21 567 L264 566.47 L264.78 565.94 L265.56 565.41 L266.35 564.87 L267.13 564.33 L267.91 563.79 L268.7 563.24 L269.48 562.69 L270.27 562.15 L271.05 561.6 L271.83 561.04 L272.62 560.49 L273.4 559.94 L274.18 559.39 L274.97 558.84 L275.75 558.29 L276.53 557.74 L277.32 557.2 L278.1 556.66 L278.88 556.12 L279.67 555.58 L280.45 555.05 L281.23 554.52 L282.02 554 L282.8 553.49 L283.59 552.98 L284.37 552.48 L285.15 551.98 L285.94 551.5 L286.72 551.02 L287.5 550.55 L288.29 550.1 L289.07 549.65 L289.85 549.22 L290.64 548.79 L291.42 548.38 L292.2 547.98 L292.99 547.6 L293.77 547.22 L294.56 546.86 L295.34 546.51 L296.12 546.18 L296.91 545.86 L297.69 545.56 L298.47 545.27 L299.26 544.99 L300.04 544.74 L300.82 544.49 L301.61 544.27 L302.39 544.06 L303.17 543.86 L303.96 543.69 L304.74 543.53 L305.52 543.38 L306.31 543.26 L307.09 543.15 L307.88 543.06 L308.66 542.99 L309.44 542.93 L310.23 542.89 L311.01 542.88 L311.79 542.87 L312.58 542.89 L313.36 542.93 L314.14 542.98 L314.93 543.05 L315.71 543.15 L316.49 543.25 L317.28 543.38 L318.06 543.53 L318.84 543.69 L319.63 543.87 L320.41 544.06 L321.2 544.28 L321.98 544.51 L322.76 544.75 L323.55 545.02 L324.33 545.3 L325.11 545.59 L325.9 545.9 L326.68 546.23 L327.46 546.57 L328.25 546.93 L329.03 547.3 L329.81 547.68 L330.6 548.07 L331.38 548.47 L332.16 548.88 L332.95 549.31 L333.73 549.74 L334.52 550.18 L335.3 550.63 L336.08 551.08 L336.87 551.54 L337.65 552 L338.43 552.47 L339.22 552.95 L340 553.43 L340.78 553.91 L341.57 554.4 L342.35 554.9 L343.13 555.39 L343.92 555.9 L344.7 556.4 L345.48 556.91 L346.27 557.42 L347.05 557.94 L347.84 558.46 L348.62 558.99 L349.4 559.51 L350.19 560.04 L350.97 560.58 L351.75 561.11 L352.54 561.64 L353.32 562.18 L354.1 562.71 L354.89 563.24 L355.67 563.77 L356.45 564.29 L357.24 564.81 L358.02 565.33 L358.81 565.84 L359.59 566.34 L360.37 566.84 L361.16 567.32 L361.94 567.8 L362.72 568.27 L363.51 568.73 L364.29 569.18 L365.07 569.62 L365.86 570.05 L366.64 570.47 L367.42 570.89 L368.21 571.29 L368.99 571.69 L369.77 572.07 L370.56 572.45 L371.34 572.82 L372.13 573.18 L372.91 573.53 L373.69 573.87 L374.48 574.2 L375.26 574.52 L376.04 574.83 L376.83 575.13 L377.61 575.42 L378.39 575.7 L379.18 575.97 L379.96 576.23 L380.74 576.47 L381.53 576.71 L382.31 576.93 L383.09 577.14 L383.88 577.33 L384.66 577.51 L385.45 577.68 L386.23 577.83 L387.01 577.97 L387.8 578.1 L388.58 578.21 L389.36 578.31 L390.15 578.39 L390.93 578.46 L391.71 578.52 L392.5 578.56 L393.28 578.59 L394.06 578.6 L394.85 578.61 L395.63 578.59 L396.41 578.57 L397.2 578.53 L397.98 578.47 L398.77 578.4 L399.55 578.32 L400.33 578.22 L401.12 578.1 L401.9 577.97 L402.68 577.82 L403.47 577.66 L404.25 577.48 L405.03 577.28 L405.82 577.07 L406.6 576.83 L407.38 576.58 L408.17 576.31 L408.95 576.03 L409.74 575.72 L410.52 575.4 L411.3 575.05 L412.09 574.69 L412.87 574.31 L413.65 573.92 L414.44 573.51 L415.22 573.09 L416 572.66 L416.79 572.21 L417.57 571.75 L418.35 571.29 L419.14 570.81 L419.92 570.32 L420.7 569.83 L421.49 569.33 L422.27 568.82 L423.06 568.31 L423.84 567.79 L424.62 567.27 L425.41 566.74 L426.19 566.2 L426.97 565.66 L427.76 565.11 L428.54 564.55 L429.32 563.99 L430.11 563.42 L430.89 562.84 L431.67 562.26 L432.46 561.67 L433.24 561.08 L434.02 560.48 L434.81 559.88 L435.59 559.28 L436.38 558.69 L437.16 558.09 L437.94 557.5 L438.73 556.91 L439.51 556.32 L440.29 555.74 L441.08 555.17 L441.86 554.61 L442.64 554.05 L443.43 553.51 L444.21 552.97 L444.99 552.45 L445.78 551.94 L446.56 551.44 L447.34 550.95 L448.13 550.47 L448.91 550.01 L449.7 549.55 L450.48 549.11 L451.26 548.69 L452.05 548.28 L452.83 547.88 L453.61 547.5 L454.4 547.13 L455.18 546.78 L455.96 546.44 L456.75 546.11 L457.53 545.8 L458.31 545.51 L459.1 545.23 L459.88 544.96 L460.66 544.7 L461.45 544.45 L462.23 544.22 L463.02 544 L463.8 543.79 L464.58 543.59 L465.37 543.4 L466.15 543.22 L466.93 543.05 L467.72 542.89 L468.5 542.74 L469.28 542.6 L470.07 542.47 L470.85 542.35 L471.63 542.24 L472.42 542.14 L473.2 542.05 L473.99 541.97 L474.77 541.9 L475.55 541.84 L476.34 541.8 L477.12 541.76 L477.9 541.73 L478.69 541.72 L479.47 541.72 L480.25 541.72 L481.04 541.74 L481.82 541.77 L482.6 541.8 L483.39 541.85 L484.17 541.9 L484.95 541.97 L485.74 542.04 L486.52 542.12 L487.31 542.21 L488.09 542.3 L488.87 542.41 L489.66 542.52 L490.44 542.63 L491.22 542.76 L492.01 542.88 L492.79 543.02 L493.57 543.16 L494.36 543.3 L495.14 543.45 L495.92 543.6 L496.71 543.75 L497.49 543.91 L498.27 544.06 L499.06 544.22 L499.84 544.38 L500.63 544.54 L501.41 544.7 L502.19 544.86 L502.98 545.02 L503.76 545.18 L504.54 545.34 L505.33 545.49 L506.11 545.64 L506.89 545.79 L507.68 545.93 L508.46 546.07 L509.24 546.21 L510.03 546.34 L510.81 546.47 L511.59 546.59 L512.38 546.7 L513.16 546.81 L513.95 546.92 L514.73 547.01 L515.51 547.1 L516.3 547.18 L517.08 547.25 L517.86 547.32 L518.65 547.37 L519.43 547.42 L520.21 547.45 L521 547.48 L521.78 547.49 L522.56 547.5 L523.35 547.49 L524.13 547.47 L524.92 547.43 L525.7 547.39 L526.48 547.33 L527.27 547.25 L528.05 547.16 L528.83 547.06 L529.62 546.94 L530.4 546.81 L531.18 546.67 L531.97 546.5 L532.75 546.33 L533.53 546.13 L534.32 545.92 L535.1 545.7 L535.88 545.45 L536.67 545.19 L537.45 544.91 L538.24 544.62 L539.02 544.3 L539.8 543.97 L540.59 543.62 L541.37 543.25 L542.15 542.86 L542.94 542.46 L543.72 542.04 L544.5 541.61 L545.29 541.16 L546.07 540.69 L546.85 540.22 L547.64 539.72 L548.42 539.22 L549.2 538.7 L549.99 538.16 L550.77 537.62 L551.56 537.06 L552.34 536.5 L553.12 535.92 L553.91 535.33 L554.69 534.73 L555.47 534.12 L556.26 533.5 L557.04 532.87 L557.82 532.24 L558.61 531.59 L559.39 530.94 L560.17 530.28 L560.96 529.62 L561.74 528.94 L562.52 528.26 L563.31 527.58 L564.09 526.89 L564.88 526.19 L565.66 525.49 L566.44 524.79 L567.23 524.08 L568.01 523.37 L568.79 522.66 L569.58 521.94 L570.36 521.22 L571.14 520.5 L571.93 519.78 L572.71 519.06 L573.49 518.34 L574.28 517.62 L575.06 516.9 L575.84 516.18 L576.63 515.46 L577.41 514.74 L578.2 514.03 L578.98 513.33 L579.76 512.63 L580.55 511.94 L581.33 511.25 L582.11 510.58 L582.9 509.92 L583.68 509.26 L584.46 508.63 L585.25 508 L586.03 507.39 L586.81 506.8 L587.6 506.22 L588.38 505.66 L589.17 505.12 L589.95 504.6 L590.73 504.1 L591.52 503.61 L592.3 503.14 L593.08 502.69 L593.87 502.25 L594.65 501.83 L595.43 501.43 L596.22 501.04 L597 500.67 L597.78 500.31 L598.57 499.97 L599.35 499.64 L600.13 499.33 L600.92 499.03 L601.7 498.75 L602.49 498.48 L603.27 498.23 L604.05 498 L604.84 497.78 L605.62 497.58 L606.4 497.4 L607.19 497.24 L607.97 497.09 L608.75 496.96 L609.54 496.85 L610.32 496.77 L611.1 496.7 L611.89 496.65 L612.67 496.62 L613.45 496.61 L614.24 496.63 L615.02 496.66 L615.81 496.71 L616.59 496.79 L617.37 496.88 L618.16 496.99 L618.94 497.13 L619.72 497.28 L620.51 497.45 L621.29 497.64 L622.07 497.86 L622.86 498.09 L623.64 498.34 L624.42 498.6 L625.21 498.89 L625.99 499.2 L626.77 499.52 L627.56 499.86 L628.34 500.22 L629.13 500.59 L629.91 500.98 L630.69 501.39 L631.48 501.82 L632.26 502.26 L633.04 502.72 L633.83 503.19 L634.61 503.68 L635.39 504.18 L636.18 504.7 L636.96 505.24 L637.74 505.78 L638.53 506.34 L639.31 506.91 L640.09 507.49 L640.88 508.09 L641.66 508.7 L642.45 509.31 L643.23 509.94 L644.01 510.58 L644.8 511.22 L645.58 511.88 L646.36 512.54 L647.15 513.21 L647.93 513.89 L648.71 514.57 L649.5 515.26 L650.28 515.95 L651.06 516.64 L651.85 517.34 L652.63 518.03 L653.42 518.73 L654.2 519.42 L654.98 520.12 L655.77 520.81 L656.55 521.5 L657.33 522.18 L658.12 522.86 L658.9 523.53 L659.68 524.2 L660.47 524.86 L661.25 525.52 L662.03 526.17 L662.82 526.81 L663.6 527.45 L664.38 528.08 L665.17 528.69 L665.95 529.3 L666.74 529.91 L667.52 530.5 L668.3 531.08 L669.09 531.65 L669.87 532.21 L670.65 532.75 L671.44 533.29 L672.22 533.81 L673 534.32 L673.79 534.82 L674.57 535.3 L675.35 535.77 L676.14 536.23 L676.92 536.66 L677.7 537.08 L678.49 537.49 L679.27 537.88 L680.06 538.25 L680.84 538.6 L681.62 538.93 L682.41 539.25 L683.19 539.55 L683.97 539.82 L684.76 540.08 L685.54 540.31 L686.32 540.52 L687.11 540.71 L687.89 540.88 L688.67 541.03 L689.46 541.15 L690.24 541.25 L691.02 541.32 L691.81 541.37 L692.59 541.39 L693.38 541.39 L694.16 541.36 L694.94 541.31 L695.73 541.23 L696.51 541.13 L697.29 541 L698.08 540.85 L698.86 540.67 L699.64 540.47 L700.43 540.24 L701.21 539.99 L701.99 539.71 L702.78 539.41 L703.56 539.09 L704.35 538.74 L705.13 538.37 L705.91 537.98 L706.7 537.56 L707.48 537.13 L708.26 536.66 L709.05 536.18 L709.83 535.67 L710.61 535.14 L711.4 534.59 L712.18 534.01 L712.96 533.42 L713.75 532.79 L714.53 532.15 L715.31 531.49 L716.1 530.8 L716.88 530.09 L717.67 529.36 L718.45 528.6 L719.23 527.83 L720.02 527.03 L720.8 526.21 L721.58 525.37 L722.37 524.51 L723.15 523.63 L723.93 522.72 L724.72 521.8 L725.5 520.85 L726.28 519.89 L727.07 518.9 L727.85 517.89 L728.63 516.87 L729.42 515.82 L730.2 514.75 L730.99 513.67 L731.77 512.57 L732.55 511.45 L733.34 510.33 L734.12 509.19 L734.9 508.04 L735.69 506.88 L736.47 505.72 L737.25 504.55 L738.04 503.37 L738.82 502.2 L739.6 501.02 L740.39 499.85 L741.17 498.68 L741.95 497.51 L742.74 496.35 L743.52 495.19 L744.31 494.05 L745.09 492.91 L745.87 491.78 L746.66 490.67 L747.44 489.56 L748.22 488.47 L749.01 487.4 L749.79 486.34 L750.57 485.3 L751.36 484.27 L752.14 483.27 L752.92 482.28 L753.71 481.32 L754.49 480.38 L755.27 479.46 L756.06 478.57 L756.84 477.7 L757.63 476.85 L758.41 476.02 L759.19 475.22 L759.98 474.44 L760.76 473.68 L761.54 472.95 L762.33 472.24 L763.11 471.55 L763.89 470.89 L764.68 470.25 L765.46 469.64 L766.24 469.05 L767.03 468.48 L767.81 467.94 L768.6 467.42 L769.38 466.92 L770.16 466.44 L770.95 465.99 L771.73 465.55 L772.51 465.14 L773.3 464.75 L774.08 464.37 L774.86 464.01 L775.65 463.67 L776.43 463.35 L777.21 463.05 L778 462.76 L778.78 462.49 L779.56 462.23 L780.35 461.98 L781.13 461.75 L781.92 461.52 L782.7 461.3 L783.48 461.09 L784.27 460.88 L785.05 460.68 L785.83 460.47 L786.62 460.27 L787.4 460.07" fill="none" stroke="#ff0000" stroke-opacity="1" stroke-width="5.05" stroke-linejoin="round" stroke-linecap="butt" stroke-dasharray="19.1 8.27" stroke-dashoffset="-3.1"/>
</g>
<rect x="50.4" y="453.3" width="770.6" height="136.1" fill="none" stroke="#000" stroke-width="1.38"/>
<line x1="161.83" y1="589.4" x2="161.83" y2="595.9" stroke="#000" stroke-width="1.38"/>
<text transform="translate(161.83,615.1) scale(1.031,1)" font-size="16.67" text-anchor="middle">0.2</text>
<line x1="317.89" y1="589.4" x2="317.89" y2="595.9" stroke="#000" stroke-width="1.38"/>
<text transform="translate(317.89,615.1) scale(1.031,1)" font-size="16.67" text-anchor="middle">0.4</text>
<line x1="473.95" y1="589.4" x2="473.95" y2="595.9" stroke="#000" stroke-width="1.38"/>
<text transform="translate(473.95,615.1) scale(1.031,1)" font-size="16.67" text-anchor="middle">0.6</text>
<line x1="630.01" y1="589.4" x2="630.01" y2="595.9" stroke="#000" stroke-width="1.38"/>
<text transform="translate(630.01,615.1) scale(1.031,1)" font-size="16.67" text-anchor="middle">0.8</text>
<line x1="786.07" y1="589.4" x2="786.07" y2="595.9" stroke="#000" stroke-width="1.38"/>
<text transform="translate(786.07,615.1) scale(1.031,1)" font-size="16.67" text-anchor="middle">1.0</text>
<line x1="43.7" y1="453.3" x2="50.4" y2="453.3" stroke="#000" stroke-width="1.38"/>
<text transform="translate(38.6,460.4) scale(1.031,1)" font-size="16.67" text-anchor="end">1.0</text>
<line x1="43.7" y1="499.2" x2="50.4" y2="499.2" stroke="#000" stroke-width="1.38"/>
<text transform="translate(38.6,506.3) scale(1.031,1)" font-size="16.67" text-anchor="end">0.5</text>
<line x1="43.7" y1="545" x2="50.4" y2="545" stroke="#000" stroke-width="1.38"/>
<text transform="translate(38.6,552.1) scale(1.031,1)" font-size="16.67" text-anchor="end">0.0</text>
<text transform="translate(354.3,442.2) scale(1.031,1)" font-size="20.0" letter-spacing="0.037">Network output</text>
<rect x="58.95" y="461.63" width="172.85" height="83.4" rx="3.4" ry="3.4" fill="#fff" fill-opacity="0.82" stroke="#ccc" stroke-opacity="0.8" stroke-width="1.5"/>
<path d="M63.27 474.8 L101.65 474.8" stroke="#ff7f0e" stroke-opacity="0.78" stroke-width="5.05" fill="none"/>
<text transform="translate(112.6,481) scale(1.031,1)" font-size="16.67" letter-spacing="0.097">Spiking ReLU</text>
<path d="M63.27 500.9 L101.65 500.9" stroke="#1f77b4" stroke-opacity="1" stroke-width="5.05" fill="none"/>
<text transform="translate(113,507.1) scale(1.031,1)" font-size="16.67" letter-spacing="-0.259">ReLU</text>
<path d="M65.85 527 L100.25 527" stroke="#ff0000" stroke-width="5.05" stroke-dasharray="19.1 8.27" fill="none"/>
<text transform="translate(113.3,533.2) scale(1.031,1)" font-size="16.67" letter-spacing="0.170">Ideal</text>
<g clip-path="url(#c3)">
<path d="M83.8 737.5 L84.58 789.12 L85.36 753.05 L86.14 789.46 L86.92 757.94 L87.7 790.57 L88.48 753.05 L89.26 793.37 L90.04 754.39 L90.82 790.8 L91.6 753.05 L92.38 788.98 L93.16 753.05 L93.94 793.4 L94.72 725.23 L95.5 788.34 L96.28 725.23 L97.06 791.09 L97.84 774.33 L98.62 793.65 L99.4 777.33 L100.18 788.1 L100.96 774.33 L101.74 790.51 L102.52 778.87 L103.3 793 L104.08 774.33 L104.86 789.3 L105.64 777.67 L106.42 790.99 L107.2 774.33 L107.98 790.86 L108.76 774.33 L109.54 790.94 L110.32 723.59 L111.1 788.77 L111.88 723.59 L112.66 791.92 L113.44 733.41 L114.22 792.14 L115 735.67 L115.78 791.68 L116.56 733.41 L117.34 791.58 L118.12 733.41 L118.9 771.05 L119.68 771.05 L120.46 771.05 L121.24 771.96 L122.02 771.05 L122.8 771.05 L123.58 771.05 L124.36 774.22 L125.14 771.05 L125.92 771.05 L126.7 793.79 L127.48 771.51 L128.26 789.54 L129.04 771.05 L129.82 789.62 L130.6 733.41 L131.38 789.7 L132.16 734.23 L132.94 791.95 L133.72 737.19 L134.5 792.39 L135.28 734.23 L136.06 788.13 L136.84 767.78 L137.62 790.97 L138.4 767.78 L139.18 793.01 L139.96 769.32 L140.74 791.02 L141.52 767.78 L142.3 790.89 L143.08 754.69 L143.86 791.74 L144.64 774.33 L145.42 792 L146.2 775.15 L146.98 774.33 L147.76 774.33 L148.54 774.33 L149.32 778.31 L150.1 774.33 L150.88 774.33 L151.66 774.33 L152.44 774.33 L153.22 772.42 L154 762.87 L154.78 788.17 L155.56 763.07 L156.34 788.55 L157.12 762.87 L157.9 790.95 L158.68 746.5 L159.46 789.5 L160.24 761.23 L161.02 789.85 L161.8 761.58 L162.58 791.66 L163.36 761.23 L164.14 791.23 L164.92 764.23 L165.7 789.43 L166.48 761.23 L167.26 789.24 L168.04 747.32 L168.82 791.28 L169.6 771.05 L170.38 793.47 L171.16 773.76 L171.94 790.15 L172.72 771.05 L173.5 788.15 L174.28 771.69 L175.06 792.42 L175.84 771.05 L176.62 793.01 L177.4 771.05 L178.18 790.35 L178.96 754.69 L179.74 789.11 L180.52 758.97 L181.3 793.6 L182.08 754.69 L182.86 789.02 L183.64 746.5 L184.42 792.15 L185.2 746.5 L185.98 788.54 L186.76 751.05 L187.54 792.61 L188.32 746.5 L189.1 789.48 L189.88 710.5 L190.66 792.79 L191.44 741.59 L192.22 788.95 L193 744.34 L193.78 792.81 L194.56 741.59 L195.34 792.11 L196.12 745.63 L196.9 793.53 L197.68 741.59 L198.46 791.63 L199.24 741.91 L200.02 792.9 L200.8 741.59 L201.58 790.65 L202.36 735.05 L203.14 791.24 L203.92 735.05 L204.7 791.81 L205.48 738 L206.26 788.16 L207.04 735.05 L207.82 792.35 L208.6 735.1 L209.38 788.82 L210.16 735.05 L210.94 791.05 L211.72 707.22 L212.5 788.6 L213.28 723.59 L214.06 788.56 L214.84 723.71 L215.62 792.17 L216.4 723.59 L217.18 793.08 L217.96 723.59 L218.74 793.62 L219.52 735.05 L220.3 793.37 L221.08 736.85 L221.86 791.29 L222.64 735.05 L223.42 790.67 L224.2 749.78 L224.98 791.9 L225.76 749.78 L226.54 774.42 L227.32 750.74 L228.1 774.42 L228.88 749.78 L229.66 774.42 L230.44 754.37 L231.22 774.42 L232 749.78 L232.78 791.58 L233.56 748.14 L234.34 791.09 L235.12 754.69 L235.9 790.79 L236.68 759.3 L237.46 791.5 L238.24 754.69 L239.02 790.23 L239.8 767.78 L240.58 793.43 L241.36 767.78 L242.14 788.12 L242.92 770.8 L243.7 792.07 L244.48 767.78 L245.26 789.53 L246.04 754.69 L246.82 792.92 L247.6 767.78 L248.38 788.07 L249.16 754.69 L249.94 790.24 L250.72 739.96 L251.5 787.87 L252.28 744.05 L253.06 789.98 L253.84 739.96 L254.62 792.67 L255.4 761.23 L256.18 792.32 L256.96 761.23 L257.74 793.25 L258.52 765.71 L259.3 791.03 L260.08 761.23 L260.86 793.17 L261.64 764.66 L262.42 788.9 L263.2 761.23 L263.98 792.35 L264.76 761.23 L265.54 792.93 L266.32 746.5 L267.1 790.32 L267.88 757.96 L268.66 790.72 L269.44 757.96 L270.22 792.25 L271 762.19 L271.78 791.27 L272.56 757.96 L273.34 788.79 L274.12 758.46 L274.9 789.92 L275.68 757.96 L276.46 789.28 L277.24 757.96 L278.02 775.42 L278.8 738.32 L279.58 775.42 L280.36 741.11 L281.14 775.42 L281.92 738.32 L282.7 775.42 L283.48 738.32 L284.26 788.44 L285.04 731.77 L285.82 791.78 L286.6 746.5 L287.38 782.42 L288.16 746.5 L288.94 782.42 L289.72 748.36 L290.5 782.42 L291.28 746.5 L292.06 782.42 L292.84 746.5 L293.62 789.94 L294.4 730.14 L295.18 793.44 L295.96 730.14 L296.74 787.99 L297.52 746.5 L298.3 792.84 L299.08 747.99 L299.86 788.4 L300.64 746.5 L301.42 789.13 L302.2 746.5 L302.98 788.03 L303.76 733.41 L304.54 793.54 L305.32 756.32 L306.1 791.65 L306.88 756.32 L307.66 790.66 L308.44 756.79 L309.22 793.16 L310 756.32 L310.78 782.42 L311.56 756.59 L312.34 782.42 L313.12 756.32 L313.9 782.42 L314.68 758.86 L315.46 782.42 L316.24 756.32 L317.02 789.22 L317.8 673.67 L318.58 790.98 L319.36 746.5 L320.14 787.8 L320.92 746.74 L321.7 791.46 L322.48 746.5 L323.26 788.45 L324.04 750.62 L324.82 790.14 L325.6 746.5 L326.38 788.79 L327.16 731.77 L327.94 788.57 L328.72 731.77 L329.5 779.42 L330.28 733.27 L331.06 779.42 L331.84 731.77 L332.62 779.42 L333.4 672.03 L334.18 779.42 L334.96 687.58 L335.74 779.42 L336.52 688.56 L337.3 790.94 L338.08 687.58 L338.86 792.53 L339.64 687.58 L340.42 791.9 L341.2 731.77 L341.98 790.65 L342.76 731.97 L343.54 789.04 L344.32 731.77 L345.1 788.84 L345.88 731.77 L346.66 789.76 L347.44 686.6 L348.22 791.74 L349 735.05 L349.78 790.88 L350.56 735.05 L351.34 789.36 L352.12 734.23 L352.9 777.42 L353.68 753.05 L354.46 777.42 L355.24 755.78 L356.02 777.42 L356.8 753.05 L357.58 777.42 L358.36 755.61 L359.14 789.04 L359.92 753.05 L360.7 793.15 L361.48 753.05 L362.26 792.37 L363.04 726.86 L363.82 790.82 L364.6 751.41 L365.38 789.4 L366.16 751.41 L366.94 789.61 L367.72 756.24 L368.5 780.42 L369.28 751.41 L370.06 780.42 L370.84 751.41 L371.62 780.42 L372.4 705.59 L373.18 780.42 L373.96 743.23 L374.74 793.77 L375.52 743.23 L376.3 792.14 L377.08 745.48 L377.86 788.23 L378.64 743.23 L379.42 789.98 L380.2 746.45 L380.98 792.11 L381.76 743.23 L382.54 787.98 L383.32 744.94 L384.1 789.53 L384.88 743.23 L385.66 791.64 L386.44 743.23 L387.22 790.04 L388 736.68 L388.78 789.51 L389.56 751.41 L390.34 789.53 L391.12 751.41 L391.9 788.24 L392.68 754.12 L393.46 792.35 L394.24 751.41 L395.02 788.43 L395.8 735.05 L396.58 790.89 L397.36 735.05 L398.14 791.54 L398.92 757.96 L399.7 793.13 L400.48 757.96 L401.26 788.65 L402.04 759.08 L402.82 791.7 L403.6 757.96 L404.38 788.99 L405.16 762.71 L405.94 787.85 L406.72 757.96 L407.5 792.65 L408.28 757.96 L409.06 790.45 L409.84 735.05 L410.62 793.15 L411.4 738.28 L412.18 788.27 L412.96 735.05 L413.74 788.14 L414.52 735.05 L415.3 788.04 L416.08 727.68 L416.86 788.3 L417.64 735.05 L418.42 791.88 L419.2 735.05 L419.98 788.07 L420.76 735.05 L421.54 791.68 L422.32 733.41 L423.1 788.37 L423.88 744.87 L424.66 792.97 L425.44 744.87 L426.22 791.57 L427 745.95 L427.78 790.42 L428.56 744.87 L429.34 790.35 L430.12 726.04 L430.9 788.71 L431.68 751.41 L432.46 792.56 L433.24 751.41 L434.02 789.92 L434.8 769.42 L435.58 792.29 L436.36 771.14 L437.14 782.42 L437.92 769.42 L438.7 782.42 L439.48 769.42 L440.26 782.42 L441.04 753.05 L441.82 782.42 L442.6 753.05 L443.38 790.87 L444.16 746.5 L444.94 789.09 L445.72 750.64 L446.5 793.05 L447.28 746.5 L448.06 779.42 L448.84 735.05 L449.62 779.42 L450.4 749.78 L451.18 779.42 L451.96 753.77 L452.74 779.42 L453.52 749.78 L454.3 793.32 L455.08 750.6 L455.86 793.67 L456.64 749.78 L457.42 793.19 L458.2 754.58 L458.98 788.44 L459.76 749.78 L460.54 792.28 L461.32 717.04 L462.1 790.38 L462.88 717.04 L463.66 791 L464.44 718.4 L465.22 790.3 L466 717.04 L466.78 790.71 L467.56 699.04 L468.34 793.12 L469.12 720.32 L469.9 787.86 L470.68 761.23 L471.46 790.83 L472.24 720.32 L473.02 791.77 L473.8 761.23 L474.58 790.89 L475.36 761.23 L476.14 788.38 L476.92 761.23 L477.7 788.59 L478.48 756.32 L479.26 791.52 L480.04 756.32 L480.82 790.94 L481.6 753.05 L482.38 791.9 L483.16 756.32 L483.94 788.06 L484.72 723.59 L485.5 790.29 L486.28 723.59 L487.06 788.62 L487.84 722.77 L488.62 793.1 L489.4 741.59 L490.18 791.86 L490.96 741.59 L491.74 772.42 L492.52 746.44 L493.3 772.42 L494.08 741.59 L494.86 774.33 L495.64 774.33 L496.42 774.33 L497.2 774.33 L497.98 774.33 L498.76 775.54 L499.54 790.67 L500.32 774.33 L501.1 793.62 L501.88 776.17 L502.66 789.3 L503.44 774.33 L504.22 777.42 L505 734.23 L505.78 777.42 L506.56 734.23 L507.34 777.42 L508.12 746.5 L508.9 777.42 L509.68 746.5 L510.46 793.33 L511.24 750.37 L512.02 793.71 L512.8 746.5 L513.58 793.14 L514.36 767.78 L515.14 791.47 L515.92 767.78 L516.7 791.18 L517.48 768.4 L518.26 792.17 L519.04 767.78 L519.82 793.63 L520.6 767.78 L521.38 790.73 L522.16 731.77 L522.94 791.52 L523.72 754.69 L524.5 789.85 L525.28 754.69 L526.06 792.83 L526.84 757.17 L527.62 792.55 L528.4 754.69 L529.18 793.05 L529.96 758.59 L530.74 792.12 L531.52 754.69 L532.3 791.37 L533.08 754.69 L533.86 789.57 L534.64 718.68 L535.42 771.42 L536.2 719.34 L536.98 771.42 L537.76 718.68 L538.54 771.42 L539.32 708.86 L540.1 771.42 L540.88 749.78 L541.66 788.57 L542.44 753.27 L543.22 788.66 L544 749.78 L544.78 790.69 L545.56 750.75 L546.34 791.92 L547.12 749.78 L547.9 788.05 L548.68 731.77 L549.46 793.5 L550.24 731.77 L551.02 791.19 L551.8 699.04 L552.58 792.45 L553.36 715.41 L554.14 790.71 L554.92 719.6 L555.7 792.82 L556.48 715.41 L557.26 777.42 L558.04 743.23 L558.82 777.42 L559.6 743.23 L560.38 777.42 L561.16 743.65 L561.94 777.42 L562.72 743.23 L563.5 788.34 L564.28 743.23 L565.06 788.95 L565.84 740.77 L566.62 789.71 L567.4 744.87 L568.18 788.09 L568.96 744.87 L569.74 793.38 L570.52 748.22 L571.3 792.27 L572.08 744.87 L572.86 793.61 L573.64 744.87 L574.42 789.74 L575.2 718.68 L575.98 789.92 L576.76 721.95 L577.54 789.4 L578.32 721.95 L579.1 791.32 L579.88 722.67 L580.66 792.24 L581.44 721.95 L582.22 793.47 L583 725.5 L583.78 793.42 L584.56 721.95 L585.34 788.21 L586.12 725.98 L586.9 780.42 L587.68 721.95 L588.46 780.42 L589.24 701.49 L590.02 780.42 L590.8 730.95 L591.58 780.42 L592.36 730.96 L593.14 787.85 L593.92 730.95 L594.7 778.42 L595.48 734.96 L596.26 778.42 L597.04 730.95 L597.82 778.42 L598.6 730.95 L599.38 778.42 L600.16 696.58 L600.94 778.42 L601.72 744.05 L602.5 793.43 L603.28 744.05 L604.06 792.68 L604.84 746.76 L605.62 788.88 L606.4 744.05 L607.18 793.1 L607.96 764.51 L608.74 791.3 L609.52 764.51 L610.3 791.29 L611.08 766.81 L611.86 789.26 L612.64 764.51 L613.42 791.74 L614.2 742.41 L614.98 776.42 L615.76 742.41 L616.54 776.42 L617.32 746.99 L618.1 776.42 L618.88 742.41 L619.66 776.42 L620.44 746.32 L621.22 790.44 L622 742.41 L622.78 790.02 L623.56 721.13 L624.34 789.09 L625.12 744.87 L625.9 788.27 L626.68 748.36 L627.46 788.32 L628.24 744.87 L629.02 791.77 L629.8 744.87 L630.58 788.6 L631.36 753.05 L632.14 790.49 L632.92 755.6 L633.7 788.92 L634.48 753.05 L635.26 774.42 L636.04 754.97 L636.82 774.42 L637.6 753.05 L638.38 774.42 L639.16 753.05 L639.94 774.42 L640.72 729.32 L641.5 792 L642.28 753.87 L643.06 792.98 L643.84 753.87 L644.62 788.18 L645.4 755.07 L646.18 789.4 L646.96 753.87 L647.74 790.61 L648.52 757.16 L649.3 792.54 L650.08 753.87 L650.86 790.5 L651.64 753.87 L652.42 792.87 L653.2 735.05 L653.98 787.8 L654.76 735.05 L655.54 789.09 L656.32 762.87 L657.1 791.03 L657.88 762.87 L658.66 790.22 L659.44 767.78 L660.22 789.02 L661 771.28 L661.78 788.96 L662.56 767.78 L663.34 791.84 L664.12 767.78 L664.9 790.68 L665.68 753.05 L666.46 792.76 L667.24 756.87 L668.02 789.98 L668.8 753.05 L669.58 790.28 L670.36 721.13 L671.14 791.45 L671.92 751.41 L672.7 789.9 L673.48 752.2 L674.26 793.53 L675.04 751.41 L675.82 788.89 L676.6 751.41 L677.38 791.64 L678.16 742.41 L678.94 789.49 L679.72 746.5 L680.5 790.85 L681.28 746.5 L682.06 791.89 L682.84 747.6 L683.62 792.04 L684.4 746.5 L685.18 788.49 L685.96 748.86 L686.74 789.62 L687.52 746.5 L688.3 790.76 L689.08 754.69 L689.86 791.21 L690.64 754.69 L691.42 790.06 L692.2 758.05 L692.98 789.98 L693.76 754.69 L694.54 791.05 L695.32 758.95 L696.1 790.37 L696.88 754.69 L697.66 791.34 L698.44 754.69 L699.22 766.42 L700 731.77 L700.78 766.42 L701.56 749.78 L702.34 766.42 L703.12 749.78 L703.9 766.42 L704.68 753.62 L705.46 787.88 L706.24 749.78 L707.02 791.07 L707.8 750.95 L708.58 793.41 L709.36 749.78 L710.14 771.42 L710.92 734.23 L711.7 771.42 L712.48 734.23 L713.26 771.42 L714.04 748.14 L714.82 771.42 L715.6 748.14 L716.38 789.38 L717.16 751.35 L717.94 791.58 L718.72 748.14 L719.5 793.6 L720.28 708.86 L721.06 788.78 L721.84 741.59 L722.62 788.89 L723.4 743.89 L724.18 788.73 L724.96 741.59 L725.74 789.77 L726.52 742.78 L727.3 791.45 L728.08 741.59 L728.86 780.42 L729.64 746.06 L730.42 780.42 L731.2 741.59 L731.98 780.42 L732.76 741.59 L733.54 780.42 L734.32 726.04 L735.1 792.45 L735.88 728.44 L736.66 787.9 L737.44 726.04 L738.22 788.17 L739 764.51 L739.78 790.83 L740.56 764.51 L741.34 793.41 L742.12 767.09 L742.9 789.24 L743.68 764.51 L744.46 793.49 L745.24 707.22 L746.02 792.84 L746.8 707.22 L747.58 788.97 L748.36 743.23 L749.14 790.59 L749.92 743.23 L750.7 792.01 L751.48 743.23 L752.26 789.33 L753.04 727.68 L753.82 791.19 L754.6 727.68 L755.38 788.04 L756.16 757.96 L756.94 791.44 L757.72 760.81 L758.5 792.95 L759.28 757.96 L760.06 787.95 L760.84 759.33 L761.62 790.92 L762.4 757.96 L763.18 790.69 L763.96 732.59 L764.74 790.55 L765.52 756.32 L766.3 791.94 L767.08 759.46 L767.86 788.66 L768.64 756.32 L769.42 790.86 L770.2 760.37 L770.98 793.17 L771.76 756.32 L772.54 791.01 L773.32 739.96 L774.1 789.13 L774.88 739.96 L775.66 792.92 L776.44 739.96 L777.22 789.76 L778 708.86 L778.78 791.09 L779.56 708.86 L780.34 790.53 L781.12 761.23 L781.9 789.16 L782.68 765.85 L783.46 791.88 L784.24 761.23 L785.02 790.21 L785.8 761.23" fill="none" stroke="#ff7f0e" stroke-opacity="0.78" stroke-width="5.05" stroke-linejoin="round" stroke-linecap="butt"/>
<path d="M83 791.99 L84.41 790.91 L85.82 789.85 L87.23 788.88 L88.65 788.08 L90.06 787.51 L91.47 787.23 L92.88 787.31 L94.29 787.81 L95.7 788.64 L97.12 789.7 L98.53 790.89 L99.94 792.08 L101.35 793.16 L102.76 794.02 L104.17 794.56 L105.59 794.67 L107 794.39 L108.41 793.83 L109.82 793.08 L111.23 792.26 L112.64 791.47 L114.06 790.79 L115.47 790.24 L116.88 789.81 L118.29 789.48 L119.7 789.26 L121.11 789.13 L122.53 789.08 L123.94 789.11 L125.35 789.2 L126.76 789.35 L128.17 789.55 L129.58 789.79 L131 790.06 L132.41 790.35 L133.82 790.65 L135.23 790.96 L136.64 791.26 L138.05 791.54 L139.46 791.81 L140.88 792.08 L142.29 792.35 L143.7 792.63 L145.11 792.93 L146.52 793.26 L147.93 793.59 L149.35 793.91 L150.76 794.16 L152.17 794.33 L153.58 794.37 L154.99 794.26 L156.4 793.95 L157.82 793.43 L159.23 792.72 L160.64 791.89 L162.05 791.03 L163.46 790.22 L164.87 789.53 L166.29 789.04 L167.7 788.82 L169.11 788.87 L170.52 789.14 L171.93 789.57 L173.34 790.12 L174.76 790.73 L176.17 791.36 L177.58 791.94 L178.99 792.44 L180.4 792.84 L181.81 793.15 L183.23 793.37 L184.64 793.53 L186.05 793.64 L187.46 793.7 L188.87 793.73 L190.28 793.75 L191.69 793.75 L193.11 793.77 L194.52 793.8 L195.93 793.87 L197.34 793.96 L198.75 794.07 L200.16 794.2 L201.58 794.35 L202.99 794.5 L204.4 794.66 L205.81 794.82 L207.22 794.97 L208.63 795.11 L210.05 795.24 L211.46 795.35 L212.87 795.43 L214.28 795.48 L215.69 795.5 L217.1 795.49 L218.52 795.45 L219.93 795.38 L221.34 795.3 L222.75 795.21 L224.16 795.11 L225.57 795.01 L226.99 794.91 L228.4 794.83 L229.81 794.76 L231.22 794.71 L232.63 794.68 L234.04 794.69 L235.46 794.71 L236.87 794.75 L238.28 794.8 L239.69 794.87 L241.1 794.94 L242.51 795.02 L243.93 795.1 L245.34 795.17 L246.75 795.24 L248.16 795.31 L249.57 795.36 L250.98 795.39 L252.39 795.4 L253.81 795.37 L255.22 795.31 L256.63 795.21 L258.04 795.06 L259.45 794.86 L260.86 794.6 L262.28 794.27 L263.69 793.87 L265.1 793.4 L266.51 792.91 L267.92 792.48 L269.33 792.19 L270.75 792.08 L272.16 792.13 L273.57 792.3 L274.98 792.57 L276.39 792.9 L277.8 793.26 L279.22 793.61 L280.63 793.92 L282.04 794.18 L283.45 794.39 L284.86 794.55 L286.27 794.68 L287.69 794.76 L289.1 794.81 L290.51 794.83 L291.92 794.82 L293.33 794.8 L294.74 794.75 L296.16 794.69 L297.57 794.63 L298.98 794.55 L300.39 794.47 L301.8 794.38 L303.21 794.29 L304.62 794.21 L306.04 794.12 L307.45 794.04 L308.86 793.96 L310.27 793.9 L311.68 793.84 L313.09 793.8 L314.51 793.77 L315.92 793.75 L317.33 793.73 L318.74 793.71 L320.15 793.69 L321.56 793.65 L322.98 793.6 L324.39 793.53 L325.8 793.43 L327.21 793.3 L328.62 793.13 L330.03 792.92 L331.45 792.68 L332.86 792.41 L334.27 792.14 L335.68 791.88 L337.09 791.66 L338.5 791.48 L339.92 791.38 L341.33 791.35 L342.74 791.4 L344.15 791.54 L345.56 791.76 L346.97 792.08 L348.39 792.48 L349.8 792.97 L351.21 793.54 L352.62 794.09 L354.03 794.5 L355.44 794.63 L356.85 794.44 L358.27 794.03 L359.68 793.49 L361.09 792.92 L362.5 792.42 L363.91 792.07 L365.32 791.91 L366.74 791.89 L368.15 791.99 L369.56 792.18 L370.97 792.41 L372.38 792.66 L373.79 792.89 L375.21 793.06 L376.62 793.18 L378.03 793.25 L379.44 793.28 L380.85 793.28 L382.26 793.28 L383.68 793.28 L385.09 793.29 L386.5 793.34 L387.91 793.43 L389.32 793.57 L390.73 793.79 L392.15 794.08 L393.56 794.42 L394.97 794.8 L396.38 795.17 L397.79 795.51 L399.2 795.79 L400.62 795.98 L402.03 796.05 L403.44 795.96 L404.85 795.69 L406.26 795.22 L407.67 794.54 L409.08 793.74 L410.5 792.86 L411.91 791.98 L413.32 791.16 L414.73 790.46 L416.14 789.95 L417.55 789.69 L418.97 789.7 L420.38 789.93 L421.79 790.32 L423.2 790.81 L424.61 791.35 L426.02 791.88 L427.44 792.34 L428.85 792.7 L430.26 792.98 L431.67 793.19 L433.08 793.35 L434.49 793.46 L435.91 793.55 L437.32 793.63 L438.73 793.72 L440.14 793.82 L441.55 793.95 L442.96 794.11 L444.38 794.27 L445.79 794.44 L447.2 794.6 L448.61 794.73 L450.02 794.84 L451.43 794.91 L452.85 794.93 L454.26 794.89 L455.67 794.78 L457.08 794.58 L458.49 794.32 L459.9 794.01 L461.32 793.69 L462.73 793.37 L464.14 793.09 L465.55 792.88 L466.96 792.73 L468.37 792.62 L469.78 792.54 L471.2 792.46 L472.61 792.36 L474.02 792.23 L475.43 792.04 L476.84 791.82 L478.25 791.6 L479.67 791.4 L481.08 791.25 L482.49 791.2 L483.9 791.27 L485.31 791.49 L486.72 791.87 L488.14 792.38 L489.55 792.96 L490.96 793.57 L492.37 794.16 L493.78 794.69 L495.19 795.11 L496.61 795.38 L498.02 795.45 L499.43 795.3 L500.84 794.98 L502.25 794.59 L503.66 794.21 L505.08 793.94 L506.49 793.87 L507.9 794.04 L509.31 794.37 L510.72 794.77 L512.13 795.14 L513.55 795.39 L514.96 795.42 L516.37 795.21 L517.78 794.79 L519.19 794.25 L520.6 793.64 L522.01 793.03 L523.43 792.49 L524.84 792.09 L526.25 791.86 L527.66 791.8 L529.07 791.93 L530.48 792.25 L531.9 792.76 L533.31 793.46 L534.72 794.3 L536.13 795.17 L537.54 795.99 L538.95 796.66 L540.37 797.06 L541.78 797.11 L543.19 796.72 L544.6 795.91 L546.01 794.81 L547.42 793.54 L548.84 792.22 L550.25 790.97 L551.66 789.92 L553.07 789.17 L554.48 788.86 L555.89 788.98 L557.31 789.45 L558.72 790.16 L560.13 791.02 L561.54 791.94 L562.95 792.84 L564.36 793.65 L565.78 794.34 L567.19 794.9 L568.6 795.28 L570.01 795.47 L571.42 795.43 L572.83 795.2 L574.24 794.84 L575.66 794.39 L577.07 793.91 L578.48 793.44 L579.89 793.02 L581.3 792.72 L582.71 792.51 L584.13 792.39 L585.54 792.34 L586.95 792.35 L588.36 792.41 L589.77 792.5 L591.18 792.61 L592.6 792.73 L594.01 792.85 L595.42 792.94 L596.83 793.01 L598.24 793.03 L599.65 792.99 L601.07 792.88 L602.48 792.72 L603.89 792.51 L605.3 792.26 L606.71 792 L608.12 791.73 L609.54 791.45 L610.95 791.2 L612.36 790.97 L613.77 790.79 L615.18 790.65 L616.59 790.58 L618.01 790.58 L619.42 790.63 L620.83 790.73 L622.24 790.87 L623.65 791.03 L625.06 791.22 L626.47 791.41 L627.89 791.6 L629.3 791.78 L630.71 791.94 L632.12 792.08 L633.53 792.17 L634.94 792.21 L636.36 792.19 L637.77 792.11 L639.18 791.97 L640.59 791.79 L642 791.56 L643.41 791.31 L644.83 791.04 L646.24 790.76 L647.65 790.49 L649.06 790.23 L650.47 790 L651.88 789.8 L653.3 789.65 L654.71 789.54 L656.12 789.49 L657.53 789.47 L658.94 789.5 L660.35 789.56 L661.77 789.66 L663.18 789.79 L664.59 789.95 L666 790.13 L667.41 790.34 L668.82 790.56 L670.24 790.79 L671.65 791.04 L673.06 791.28 L674.47 791.52 L675.88 791.74 L677.29 791.93 L678.71 792.1 L680.12 792.22 L681.53 792.3 L682.94 792.32 L684.35 792.28 L685.76 792.16 L687.17 791.98 L688.59 791.74 L690 791.48 L691.41 791.21 L692.82 790.96 L694.23 790.75 L695.64 790.61 L697.06 790.55 L698.47 790.6 L699.88 790.79 L701.29 791.09 L702.7 791.47 L704.11 791.93 L705.53 792.43 L706.94 792.95 L708.35 793.46 L709.76 793.95 L711.17 794.38 L712.58 794.74 L714 795 L715.41 795.14 L716.82 795.15 L718.23 795.05 L719.64 794.85 L721.05 794.57 L722.47 794.22 L723.88 793.81 L725.29 793.37 L726.7 792.9 L728.11 792.43 L729.52 791.96 L730.94 791.52 L732.35 791.11 L733.76 790.73 L735.17 790.38 L736.58 790.05 L737.99 789.72 L739.4 789.41 L740.82 789.08 L742.23 788.76 L743.64 788.43 L745.05 788.1 L746.46 787.77 L747.87 787.44 L749.29 787.1 L750.7 786.76 L752.11 786.42 L753.52 786.08 L754.93 785.73 L756.34 785.38 L757.76 785.03 L759.17 784.68 L760.58 784.33 L761.99 783.99 L763.4 783.66 L764.81 783.35 L766.23 783.07 L767.64 782.83 L769.05 782.64 L770.46 782.49 L771.87 782.4 L773.28 782.38 L774.7 782.41 L776.11 782.49 L777.52 782.63 L778.93 782.79 L780.34 783 L781.75 783.22 L783.17 783.47 L784.58 783.73 L785.99 784 L787.4 784.26" fill="none" stroke="#1f77b4" stroke-opacity="1" stroke-width="5.05" stroke-linejoin="round" stroke-linecap="butt"/>
</g>
<rect x="50.4" y="665.8" width="770.6" height="136" fill="none" stroke="#000" stroke-width="1.38"/>
<line x1="161.83" y1="801.8" x2="161.83" y2="808.3" stroke="#000" stroke-width="1.38"/>
<text transform="translate(161.83,827) scale(1.031,1)" font-size="16.67" text-anchor="middle">0.2</text>
<line x1="317.89" y1="801.8" x2="317.89" y2="808.3" stroke="#000" stroke-width="1.38"/>
<text transform="translate(317.89,827) scale(1.031,1)" font-size="16.67" text-anchor="middle">0.4</text>
<line x1="473.95" y1="801.8" x2="473.95" y2="808.3" stroke="#000" stroke-width="1.38"/>
<text transform="translate(473.95,827) scale(1.031,1)" font-size="16.67" text-anchor="middle">0.6</text>
<line x1="630.01" y1="801.8" x2="630.01" y2="808.3" stroke="#000" stroke-width="1.38"/>
<text transform="translate(630.01,827) scale(1.031,1)" font-size="16.67" text-anchor="middle">0.8</text>
<line x1="786.07" y1="801.8" x2="786.07" y2="808.3" stroke="#000" stroke-width="1.38"/>
<text transform="translate(786.07,827) scale(1.031,1)" font-size="16.67" text-anchor="middle">1.0</text>
<line x1="43.7" y1="720.8" x2="50.4" y2="720.8" stroke="#000" stroke-width="1.38"/>
<text transform="translate(38.6,727.4) scale(1.031,1)" font-size="16.67" text-anchor="end">0.05</text>
<line x1="43.7" y1="795.8" x2="50.4" y2="795.8" stroke="#000" stroke-width="1.38"/>
<text transform="translate(38.6,802.4) scale(1.031,1)" font-size="16.67" text-anchor="end">0.00</text>
<text transform="translate(410.6,654.7) scale(1.031,1)" font-size="20.0" letter-spacing="-0.412">Error</text>
<rect x="58.95" y="674.13" width="334.45" height="57.27" rx="3.4" ry="3.4" fill="#fff" fill-opacity="0.82" stroke="#ccc" stroke-opacity="0.8" stroke-width="1.5"/>
<path d="M63.27 688 L101.65 688" stroke="#ff7f0e" stroke-opacity="0.78" stroke-width="5.05" fill="none"/>
<text transform="translate(112.6,694.2) scale(1.031,1)" font-size="16.67" letter-spacing="-0.003">Spiking ReLU mean error: 0.024</text>
<path d="M63.27 714.1 L101.65 714.1" stroke="#1f77b4" stroke-opacity="1" stroke-width="5.05" fill="none"/>
<text transform="translate(112,720.3) scale(1.031,1)" font-size="16.67" letter-spacing="0.088">ReLU mean error: 0.003</text>
</svg>
</body></html>
